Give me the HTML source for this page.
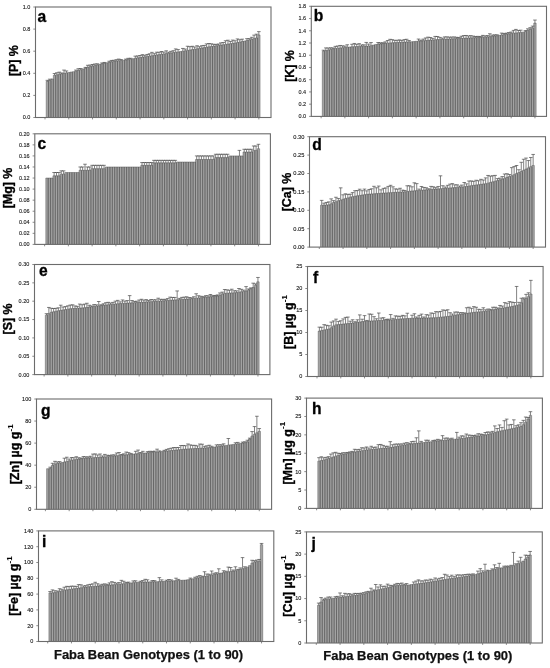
<!DOCTYPE html>
<html lang="en"><head><meta charset="utf-8"><title>Faba Bean Genotypes</title>
<style>html,body{margin:0;padding:0;background:#fff}svg{display:block}text{font-family:'Liberation Sans', Arial, Helvetica, sans-serif}.tk{font-size:5.5px;fill:#1a1a1a;stroke:#1a1a1a;stroke-width:.12px}.lt{font-size:15.6px;font-weight:bold;fill:#000;stroke:#000;stroke-width:.3px}.yl{font-size:12.4px;font-weight:bold;fill:#000;stroke:#000;stroke-width:.35px}.xl{font-size:12.95px;font-weight:bold;fill:#111;stroke:#111;stroke-width:.25px}</style></head><body>
<svg width="550" height="668" viewBox="0 0 550 668">
<rect width="550" height="668" fill="#fff"/>
<g>
<path d="M46.20 117.50V81.37h2.38V117.50M48.58 117.50V80.52h2.38V117.50M50.95 117.50V78.92h2.38V117.50M53.33 117.50V75.24h2.38V117.50M55.70 117.50V74.76h2.38V117.50M58.08 117.50V74.27h2.38V117.50M60.46 117.50V73.79h2.38V117.50M62.83 117.50V73.30h2.38V117.50M65.21 117.50V72.88h2.38V117.50M67.58 117.50V72.47h2.38V117.50M69.96 117.50V72.05h2.38V117.50M72.34 117.50V71.63h2.38V117.50M74.71 117.50V71.22h2.38V117.50M77.09 117.50V70.52h2.38V117.50M79.46 117.50V69.72h2.38V117.50M81.84 117.50V68.91h2.38V117.50M84.22 117.50V68.10h2.38V117.50M86.59 117.50V67.29h2.38V117.50M88.97 117.50V66.61h2.38V117.50M91.34 117.50V66.05h2.38V117.50M93.72 117.50V65.48h2.38V117.50M96.10 117.50V64.92h2.38V117.50M98.47 117.50V64.36h2.38V117.50M100.85 117.50V63.80h2.38V117.50M103.22 117.50V63.31h2.38V117.50M105.60 117.50V62.81h2.38V117.50M107.98 117.50V62.32h2.38V117.50M110.35 117.50V61.83h2.38V117.50M112.73 117.50V61.34h2.38V117.50M115.10 117.50V60.99h2.38V117.50M117.48 117.50V60.73h2.38V117.50M119.86 117.50V60.47h2.38V117.50M122.23 117.50V60.21h2.38V117.50M124.61 117.50V59.95h2.38V117.50M126.98 117.50V59.60h2.38V117.50M129.36 117.50V59.16h2.38V117.50M131.74 117.50V58.71h2.38V117.50M134.11 117.50V58.27h2.38V117.50M136.49 117.50V57.83h2.38V117.50M138.86 117.50V57.47h2.38V117.50M141.24 117.50V57.11h2.38V117.50M143.62 117.50V56.75h2.38V117.50M145.99 117.50V56.39h2.38V117.50M148.37 117.50V56.03h2.38V117.50M150.74 117.50V55.68h2.38V117.50M153.12 117.50V55.32h2.38V117.50M155.50 117.50V54.96h2.38V117.50M157.87 117.50V54.62h2.38V117.50M160.25 117.50V54.27h2.38V117.50M162.62 117.50V53.93h2.38V117.50M165.00 117.50V53.59h2.38V117.50M167.38 117.50V53.25h2.38V117.50M169.75 117.50V52.91h2.38V117.50M172.13 117.50V52.57h2.38V117.50M174.50 117.50V52.22h2.38V117.50M176.88 117.50V51.88h2.38V117.50M179.26 117.50V51.54h2.38V117.50M181.63 117.50V51.20h2.38V117.50M184.01 117.50V50.80h2.38V117.50M186.38 117.50V50.40h2.38V117.50M188.76 117.50V50.01h2.38V117.50M191.14 117.50V49.61h2.38V117.50M193.51 117.50V49.21h2.38V117.50M195.89 117.50V48.81h2.38V117.50M198.26 117.50V48.41h2.38V117.50M200.64 117.50V48.01h2.38V117.50M203.02 117.50V47.62h2.38V117.50M205.39 117.50V47.22h2.38V117.50M207.77 117.50V46.82h2.38V117.50M210.14 117.50V46.47h2.38V117.50M212.52 117.50V46.12h2.38V117.50M214.90 117.50V45.77h2.38V117.50M217.27 117.50V45.42h2.38V117.50M219.65 117.50V45.07h2.38V117.50M222.02 117.50V44.72h2.38V117.50M224.40 117.50V44.38h2.38V117.50M226.78 117.50V44.03h2.38V117.50M229.15 117.50V43.68h2.38V117.50M231.53 117.50V43.33h2.38V117.50M233.90 117.50V42.98h2.38V117.50M236.28 117.50V42.51h2.38V117.50M238.66 117.50V42.01h2.38V117.50M241.03 117.50V41.51h2.38V117.50M243.41 117.50V41.00h2.38V117.50M245.78 117.50V40.50h2.38V117.50M248.16 117.50V39.95h2.38V117.50M250.54 117.50V39.28h2.38V117.50M252.91 117.50V38.61h2.38V117.50M255.29 117.50V37.94h2.38V117.50M257.66 117.50V34.96h2.38V117.50" fill="#a3a3a3" stroke="#4e4e4e" stroke-width="0.45"/>
<path d="M47.39 81.37V80.33M45.59 80.33h3.60M49.76 80.52V79.17M47.96 79.17h3.60M54.52 75.24V73.51M52.72 73.51h3.60M56.89 74.76V72.76M55.09 72.76h3.60M59.27 74.27V72.14M57.47 72.14h3.60M61.64 73.79V72.94M59.84 72.94h3.60M64.02 73.30V70.07M62.22 70.07h3.60M66.40 72.88V70.95M64.60 70.95h3.60M75.90 71.22V70.08M74.10 70.08h3.60M78.28 70.52V68.71M76.48 68.71h3.60M80.65 69.72V68.52M78.85 68.52h3.60M85.40 68.10V67.39M83.60 67.39h3.60M87.78 67.29V65.29M85.98 65.29h3.60M90.16 66.61V65.05M88.36 65.05h3.60M92.53 66.05V64.48M90.73 64.48h3.60M94.91 65.48V63.97M93.11 63.97h3.60M97.28 64.92V63.79M95.48 63.79h3.60M102.04 63.80V62.94M100.24 62.94h3.60M104.41 63.31V62.45M102.61 62.45h3.60M109.16 62.32V61.22M107.36 61.22h3.60M111.54 61.83V60.43M109.74 60.43h3.60M113.92 61.34V60.29M112.12 60.29h3.60M116.29 60.99V59.70M114.49 59.70h3.60M118.67 60.73V59.07M116.87 59.07h3.60M121.04 60.47V59.53M119.24 59.53h3.60M125.80 59.95V59.12M124.00 59.12h3.60M128.17 59.60V58.33M126.37 58.33h3.60M130.55 59.16V58.28M128.75 58.28h3.60M135.30 58.27V56.14M133.50 56.14h3.60M137.68 57.83V55.95M135.88 55.95h3.60M140.05 57.47V55.51M138.25 55.51h3.60M142.43 57.11V54.67M140.63 54.67h3.60M144.80 56.75V55.32M143.00 55.32h3.60M147.18 56.39V54.47M145.38 54.47h3.60M149.56 56.03V53.79M147.76 53.79h3.60M151.93 55.68V52.36M150.13 52.36h3.60M154.31 55.32V53.66M152.51 53.66h3.60M156.68 54.96V52.19M154.88 52.19h3.60M159.06 54.62V52.31M157.26 52.31h3.60M161.44 54.27V51.50M159.64 51.50h3.60M163.81 53.93V52.10M162.01 52.10h3.60M166.19 53.59V50.81M164.39 50.81h3.60M168.56 53.25V52.22M166.76 52.22h3.60M170.94 52.91V51.35M169.14 51.35h3.60M173.32 52.57V50.69M171.52 50.69h3.60M175.69 52.22V48.91M173.89 48.91h3.60M178.07 51.88V49.57M176.27 49.57h3.60M182.82 51.20V48.44M181.02 48.44h3.60M185.20 50.80V49.05M183.40 49.05h3.60M187.57 50.40V46.24M185.77 46.24h3.60M189.95 50.01V46.69M188.15 46.69h3.60M192.32 49.61V46.29M190.52 46.29h3.60M194.70 49.21V47.00M192.90 47.00h3.60M197.08 48.81V45.74M195.28 45.74h3.60M199.45 48.41V46.69M197.65 46.69h3.60M201.83 48.01V45.71M200.03 45.71h3.60M204.20 47.62V45.43M202.40 45.43h3.60M206.58 47.22V43.90M204.78 43.90h3.60M208.96 46.82V43.50M207.16 43.50h3.60M211.33 46.47V43.84M209.53 43.84h3.60M213.71 46.12V44.27M211.91 44.27h3.60M216.08 45.77V44.40M214.28 44.40h3.60M218.46 45.42V44.01M216.66 44.01h3.60M220.84 45.07V42.86M219.04 42.86h3.60M223.21 44.72V42.51M221.41 42.51h3.60M225.59 44.38V40.75M223.79 40.75h3.60M227.96 44.03V40.21M226.16 40.21h3.60M230.34 43.68V41.47M228.54 41.47h3.60M232.72 43.33V40.08M230.92 40.08h3.60M235.09 42.98V40.78M233.29 40.78h3.60M237.47 42.51V38.93M235.67 38.93h3.60M239.84 42.01V39.74M238.04 39.74h3.60M242.22 41.51V39.15M240.42 39.15h3.60M246.97 40.50V38.68M245.17 38.68h3.60M249.35 39.95V38.66M247.55 38.66h3.60M251.72 39.28V37.32M249.92 37.32h3.60M254.10 38.61V35.13M252.30 35.13h3.60M256.48 37.94V34.18M254.68 34.18h3.60M258.85 34.96V31.64M257.05 31.64h3.60" fill="none" stroke="#404040" stroke-width="0.65"/>
<rect x="35.50" y="7.00" width="235.50" height="110.50" fill="none" stroke="#6c6c6c" stroke-width="1.1"/>
<text class="tk" x="30.30" y="119.40" text-anchor="end">0.0</text>
<text class="tk" x="30.30" y="97.30" text-anchor="end">0.2</text>
<text class="tk" x="30.30" y="75.20" text-anchor="end">0.4</text>
<text class="tk" x="30.30" y="53.10" text-anchor="end">0.6</text>
<text class="tk" x="30.30" y="31.00" text-anchor="end">0.8</text>
<text class="tk" x="30.30" y="8.90" text-anchor="end">1.0</text>
<path d="M35.50 117.50h-2.2M35.50 95.40h-2.2M35.50 73.30h-2.2M35.50 51.20h-2.2M35.50 29.10h-2.2M35.50 7.00h-2.2M45.01 117.50v1.9M68.77 117.50v1.9M92.53 117.50v1.9M116.29 117.50v1.9M140.05 117.50v1.9M163.81 117.50v1.9M187.57 117.50v1.9M211.33 117.50v1.9M235.09 117.50v1.9M258.85 117.50v1.9" fill="none" stroke="#6c6c6c" stroke-width="0.8"/>
<text class="lt" x="37.50" y="22.00">a</text>
<text class="yl" transform="translate(17.80 60.60) rotate(-90)" text-anchor="middle">[P] %</text>
</g>
<g>
<path d="M322.30 116.40V51.20h2.38V116.40M324.68 116.40V50.60h2.38V116.40M327.05 116.40V50.00h2.38V116.40M329.43 116.40V49.40h2.38V116.40M331.80 116.40V48.80h2.38V116.40M334.18 116.40V48.39h2.38V116.40M336.56 116.40V48.15h2.38V116.40M338.93 116.40V47.91h2.38V116.40M341.31 116.40V47.68h2.38V116.40M343.68 116.40V47.44h2.38V116.40M346.06 116.40V47.20h2.38V116.40M348.44 116.40V46.97h2.38V116.40M350.81 116.40V46.73h2.38V116.40M353.19 116.40V46.63h2.38V116.40M355.56 116.40V46.52h2.38V116.40M357.94 116.40V46.41h2.38V116.40M360.32 116.40V46.31h2.38V116.40M362.69 116.40V46.20h2.38V116.40M365.07 116.40V46.10h2.38V116.40M367.44 116.40V45.99h2.38V116.40M369.82 116.40V45.64h2.38V116.40M372.20 116.40V45.05h2.38V116.40M374.57 116.40V44.46h2.38V116.40M376.95 116.40V44.05h2.38V116.40M379.32 116.40V43.82h2.38V116.40M381.70 116.40V43.59h2.38V116.40M384.08 116.40V43.36h2.38V116.40M386.45 116.40V43.13h2.38V116.40M388.83 116.40V42.90h2.38V116.40M391.20 116.40V42.76h2.38V116.40M393.58 116.40V42.62h2.38V116.40M395.96 116.40V42.48h2.38V116.40M398.33 116.40V42.35h2.38V116.40M400.71 116.40V42.21h2.38V116.40M403.08 116.40V42.08h2.38V116.40M405.46 116.40V41.96h2.38V116.40M407.84 116.40V41.84h2.38V116.40M410.21 116.40V41.72h2.38V116.40M412.59 116.40V41.55h2.38V116.40M414.96 116.40V41.35h2.38V116.40M417.34 116.40V41.14h2.38V116.40M419.72 116.40V40.93h2.38V116.40M422.09 116.40V40.73h2.38V116.40M424.47 116.40V40.52h2.38V116.40M426.84 116.40V40.32h2.38V116.40M429.22 116.40V40.11h2.38V116.40M431.60 116.40V39.90h2.38V116.40M433.97 116.40V39.70h2.38V116.40M436.35 116.40V39.55h2.38V116.40M438.72 116.40V39.43h2.38V116.40M441.10 116.40V39.31h2.38V116.40M443.48 116.40V39.19h2.38V116.40M445.85 116.40V39.07h2.38V116.40M448.23 116.40V38.95h2.38V116.40M450.60 116.40V38.83h2.38V116.40M452.98 116.40V38.71h2.38V116.40M455.36 116.40V38.59h2.38V116.40M457.73 116.40V38.47h2.38V116.40M460.11 116.40V38.35h2.38V116.40M462.48 116.40V38.23h2.38V116.40M464.86 116.40V38.11h2.38V116.40M467.24 116.40V37.98h2.38V116.40M469.61 116.40V37.86h2.38V116.40M471.99 116.40V37.74h2.38V116.40M474.36 116.40V37.62h2.38V116.40M476.74 116.40V37.49h2.38V116.40M479.12 116.40V37.37h2.38V116.40M481.49 116.40V37.25h2.38V116.40M483.87 116.40V37.13h2.38V116.40M486.24 116.40V36.91h2.38V116.40M488.62 116.40V36.60h2.38V116.40M491.00 116.40V36.29h2.38V116.40M493.37 116.40V35.98h2.38V116.40M495.75 116.40V35.67h2.38V116.40M498.12 116.40V35.35h2.38V116.40M500.50 116.40V34.98h2.38V116.40M502.88 116.40V34.60h2.38V116.40M505.25 116.40V34.22h2.38V116.40M507.63 116.40V33.84h2.38V116.40M510.00 116.40V33.46h2.38V116.40M512.38 116.40V33.15h2.38V116.40M514.76 116.40V32.91h2.38V116.40M517.13 116.40V32.66h2.38V116.40M519.51 116.40V32.42h2.38V116.40M521.88 116.40V32.17h2.38V116.40M524.26 116.40V31.50h2.38V116.40M526.64 116.40V30.40h2.38V116.40M529.01 116.40V29.30h2.38V116.40M531.39 116.40V28.20h2.38V116.40M533.76 116.40V23.12h2.38V116.40" fill="#a3a3a3" stroke="#4e4e4e" stroke-width="0.45"/>
<path d="M323.49 51.20V50.21M321.69 50.21h3.60M325.86 50.60V47.91M324.06 47.91h3.60M328.24 50.00V48.02M326.44 48.02h3.60M330.62 49.40V47.80M328.82 47.80h3.60M332.99 48.80V47.91M331.19 47.91h3.60M335.37 48.39V46.37M333.57 46.37h3.60M337.74 48.15V46.00M335.94 46.00h3.60M340.12 47.91V45.46M338.32 45.46h3.60M342.50 47.68V45.84M340.70 45.84h3.60M344.87 47.44V46.11M343.07 46.11h3.60M347.25 47.20V44.76M345.45 44.76h3.60M352.00 46.73V44.29M350.20 44.29h3.60M354.38 46.63V43.46M352.58 43.46h3.60M356.75 46.52V44.37M354.95 44.37h3.60M359.13 46.41V43.65M357.33 43.65h3.60M361.50 46.31V44.93M359.70 44.93h3.60M363.88 46.20V44.82M362.08 44.82h3.60M366.26 46.10V42.43M364.46 42.43h3.60M368.63 45.99V44.07M366.83 44.07h3.60M371.01 45.64V42.54M369.21 42.54h3.60M378.14 44.05V42.51M376.34 42.51h3.60M380.51 43.82V42.84M378.71 42.84h3.60M382.89 43.59V42.74M381.09 42.74h3.60M385.26 43.36V41.86M383.46 41.86h3.60M387.64 43.13V40.50M385.84 40.50h3.60M390.02 42.90V39.32M388.22 39.32h3.60M392.39 42.76V39.70M390.59 39.70h3.60M394.77 42.62V40.34M392.97 40.34h3.60M397.14 42.48V40.29M395.34 40.29h3.60M399.52 42.35V39.90M397.72 39.90h3.60M401.90 42.21V40.41M400.10 40.41h3.60M404.27 42.08V39.61M402.47 39.61h3.60M406.65 41.96V39.27M404.85 39.27h3.60M409.02 41.84V40.54M407.22 40.54h3.60M418.53 41.14V39.04M416.73 39.04h3.60M420.90 40.93V40.20M419.10 40.20h3.60M423.28 40.73V39.10M421.48 39.10h3.60M425.66 40.52V37.97M423.86 37.97h3.60M428.03 40.32V37.15M426.23 37.15h3.60M430.41 40.11V37.52M428.61 37.52h3.60M432.78 39.90V38.37M430.98 38.37h3.60M435.16 39.70V36.41M433.36 36.41h3.60M437.54 39.55V36.50M435.74 36.50h3.60M439.91 39.43V37.41M438.11 37.41h3.60M442.29 39.31V38.16M440.49 38.16h3.60M444.66 39.19V36.90M442.86 36.90h3.60M447.04 39.07V36.88M445.24 36.88h3.60M449.42 38.95V37.15M447.62 37.15h3.60M451.79 38.83V37.06M449.99 37.06h3.60M454.17 38.71V36.95M452.37 36.95h3.60M456.54 38.59V37.27M454.74 37.27h3.60M458.92 38.47V37.51M457.12 37.51h3.60M461.30 38.35V36.25M459.50 36.25h3.60M463.67 38.23V35.61M461.87 35.61h3.60M466.05 38.11V35.48M464.25 35.48h3.60M468.42 37.98V35.94M466.62 35.94h3.60M470.80 37.86V35.64M469.00 35.64h3.60M473.18 37.74V36.10M471.38 36.10h3.60M475.55 37.62V36.47M473.75 36.47h3.60M477.93 37.49V36.36M476.13 36.36h3.60M480.30 37.37V36.54M478.50 36.54h3.60M482.68 37.25V35.38M480.88 35.38h3.60M485.06 37.13V35.93M483.26 35.93h3.60M487.43 36.91V35.59M485.63 35.59h3.60M489.81 36.60V33.75M488.01 33.75h3.60M492.18 36.29V35.11M490.38 35.11h3.60M494.56 35.98V34.85M492.76 34.85h3.60M496.94 35.67V34.77M495.14 34.77h3.60M501.69 34.98V33.08M499.89 33.08h3.60M504.06 34.60V33.52M502.26 33.52h3.60M506.44 34.22V33.12M504.64 33.12h3.60M508.82 33.84V32.57M507.02 32.57h3.60M511.19 33.46V32.02M509.39 32.02h3.60M513.57 33.15V30.40M511.77 30.40h3.60M515.94 32.91V29.41M514.14 29.41h3.60M518.32 32.66V30.47M516.52 30.47h3.60M520.70 32.42V30.17M518.90 30.17h3.60M525.45 31.50V30.57M523.65 30.57h3.60M527.82 30.40V28.82M526.02 28.82h3.60M530.20 29.30V27.68M528.40 27.68h3.60M532.58 28.20V26.10M530.78 26.10h3.60M534.95 23.12V20.06M533.15 20.06h3.60" fill="none" stroke="#404040" stroke-width="0.65"/>
<rect x="311.30" y="6.30" width="235.20" height="110.10" fill="none" stroke="#6c6c6c" stroke-width="1.1"/>
<text class="tk" x="306.10" y="118.30" text-anchor="end">0.0</text>
<text class="tk" x="306.10" y="106.07" text-anchor="end">0.2</text>
<text class="tk" x="306.10" y="93.83" text-anchor="end">0.4</text>
<text class="tk" x="306.10" y="81.60" text-anchor="end">0.6</text>
<text class="tk" x="306.10" y="69.37" text-anchor="end">0.8</text>
<text class="tk" x="306.10" y="57.13" text-anchor="end">1.0</text>
<text class="tk" x="306.10" y="44.90" text-anchor="end">1.2</text>
<text class="tk" x="306.10" y="32.67" text-anchor="end">1.4</text>
<text class="tk" x="306.10" y="20.43" text-anchor="end">1.6</text>
<text class="tk" x="306.10" y="8.20" text-anchor="end">1.8</text>
<path d="M311.30 116.40h-2.2M311.30 104.17h-2.2M311.30 91.93h-2.2M311.30 79.70h-2.2M311.30 67.47h-2.2M311.30 55.23h-2.2M311.30 43.00h-2.2M311.30 30.77h-2.2M311.30 18.53h-2.2M311.30 6.30h-2.2M321.11 116.40v1.9M344.87 116.40v1.9M368.63 116.40v1.9M392.39 116.40v1.9M416.15 116.40v1.9M439.91 116.40v1.9M463.67 116.40v1.9M487.43 116.40v1.9M511.19 116.40v1.9M534.95 116.40v1.9" fill="none" stroke="#6c6c6c" stroke-width="0.8"/>
<text class="lt" x="313.70" y="20.90">b</text>
<text class="yl" transform="translate(294.00 66.00) rotate(-90)" text-anchor="middle">[K] %</text>
</g>
<g>
<path d="M45.80 244.40V178.04h2.38V244.40M48.18 244.40V178.04h2.38V244.40M50.55 244.40V178.04h2.38V244.40M52.93 244.40V175.83h2.38V244.40M55.30 244.40V175.83h2.38V244.40M57.68 244.40V175.83h2.38V244.40M60.06 244.40V174.17h2.38V244.40M62.43 244.40V174.17h2.38V244.40M64.81 244.40V172.51h2.38V244.40M67.18 244.40V172.51h2.38V244.40M69.56 244.40V172.51h2.38V244.40M71.94 244.40V172.51h2.38V244.40M74.31 244.40V172.51h2.38V244.40M76.69 244.40V172.51h2.38V244.40M79.06 244.40V170.30h2.38V244.40M81.44 244.40V170.30h2.38V244.40M83.82 244.40V170.30h2.38V244.40M86.19 244.40V170.30h2.38V244.40M88.57 244.40V170.30h2.38V244.40M90.94 244.40V168.64h2.38V244.40M93.32 244.40V168.64h2.38V244.40M95.70 244.40V168.64h2.38V244.40M98.07 244.40V168.64h2.38V244.40M100.45 244.40V168.64h2.38V244.40M102.82 244.40V168.64h2.38V244.40M105.20 244.40V166.98h2.38V244.40M107.58 244.40V166.98h2.38V244.40M109.95 244.40V166.98h2.38V244.40M112.33 244.40V166.98h2.38V244.40M114.70 244.40V166.98h2.38V244.40M117.08 244.40V166.98h2.38V244.40M119.46 244.40V166.98h2.38V244.40M121.83 244.40V166.98h2.38V244.40M124.21 244.40V166.98h2.38V244.40M126.58 244.40V166.98h2.38V244.40M128.96 244.40V166.98h2.38V244.40M131.34 244.40V166.98h2.38V244.40M133.71 244.40V166.98h2.38V244.40M136.09 244.40V166.98h2.38V244.40M138.46 244.40V166.98h2.38V244.40M140.84 244.40V165.32h2.38V244.40M143.22 244.40V165.32h2.38V244.40M145.59 244.40V165.32h2.38V244.40M147.97 244.40V165.32h2.38V244.40M150.34 244.40V165.32h2.38V244.40M152.72 244.40V162.83h2.38V244.40M155.10 244.40V162.83h2.38V244.40M157.47 244.40V162.83h2.38V244.40M159.85 244.40V162.83h2.38V244.40M162.22 244.40V162.83h2.38V244.40M164.60 244.40V162.83h2.38V244.40M166.98 244.40V162.83h2.38V244.40M169.35 244.40V162.83h2.38V244.40M171.73 244.40V162.83h2.38V244.40M174.10 244.40V162.83h2.38V244.40M176.48 244.40V162.00h2.38V244.40M178.86 244.40V162.00h2.38V244.40M181.23 244.40V162.00h2.38V244.40M183.61 244.40V162.00h2.38V244.40M185.98 244.40V162.00h2.38V244.40M188.36 244.40V162.00h2.38V244.40M190.74 244.40V162.00h2.38V244.40M193.11 244.40V162.00h2.38V244.40M195.49 244.40V159.51h2.38V244.40M197.86 244.40V159.51h2.38V244.40M200.24 244.40V159.51h2.38V244.40M202.62 244.40V159.51h2.38V244.40M204.99 244.40V159.51h2.38V244.40M207.37 244.40V159.51h2.38V244.40M209.74 244.40V159.51h2.38V244.40M212.12 244.40V159.51h2.38V244.40M214.50 244.40V157.58h2.38V244.40M216.87 244.40V157.58h2.38V244.40M219.25 244.40V157.58h2.38V244.40M221.62 244.40V157.58h2.38V244.40M224.00 244.40V157.58h2.38V244.40M226.38 244.40V157.58h2.38V244.40M228.75 244.40V155.92h2.38V244.40M231.13 244.40V155.92h2.38V244.40M233.50 244.40V155.92h2.38V244.40M235.88 244.40V155.92h2.38V244.40M238.26 244.40V155.92h2.38V244.40M240.63 244.40V155.92h2.38V244.40M243.01 244.40V152.05h2.38V244.40M245.38 244.40V152.05h2.38V244.40M247.76 244.40V152.05h2.38V244.40M250.14 244.40V152.05h2.38V244.40M252.51 244.40V150.39h2.38V244.40M254.89 244.40V150.39h2.38V244.40M257.26 244.40V148.73h2.38V244.40" fill="#a3a3a3" stroke="#4e4e4e" stroke-width="0.45"/>
<path d="M54.12 175.83V172.51M52.32 172.51h3.60M56.49 175.83V172.51M54.69 172.51h3.60M58.87 175.83V172.51M57.07 172.51h3.60M61.24 174.17V170.85M59.44 170.85h3.60M63.62 174.17V170.85M61.82 170.85h3.60M80.25 170.30V166.98M78.45 166.98h3.60M82.63 170.30V166.98M80.83 166.98h3.60M85.00 170.30V164.22M83.20 164.22h3.60M87.38 170.30V166.98M85.58 166.98h3.60M89.76 170.30V166.98M87.96 166.98h3.60M92.13 168.64V165.32M90.33 165.32h3.60M94.51 168.64V165.32M92.71 165.32h3.60M96.88 168.64V165.32M95.08 165.32h3.60M99.26 168.64V165.32M97.46 165.32h3.60M101.64 168.64V165.32M99.84 165.32h3.60M104.01 168.64V165.32M102.21 165.32h3.60M142.03 165.32V162.56M140.23 162.56h3.60M144.40 165.32V162.56M142.60 162.56h3.60M146.78 165.32V162.56M144.98 162.56h3.60M149.16 165.32V162.56M147.36 162.56h3.60M151.53 165.32V162.56M149.73 162.56h3.60M153.91 162.83V160.34M152.11 160.34h3.60M156.28 162.83V160.34M154.48 160.34h3.60M158.66 162.83V160.34M156.86 160.34h3.60M161.04 162.83V160.34M159.24 160.34h3.60M163.41 162.83V160.34M161.61 160.34h3.60M165.79 162.83V160.34M163.99 160.34h3.60M168.16 162.83V160.34M166.36 160.34h3.60M170.54 162.83V160.34M168.74 160.34h3.60M172.92 162.83V160.34M171.12 160.34h3.60M175.29 162.83V160.34M173.49 160.34h3.60M196.68 159.51V155.92M194.88 155.92h3.60M199.05 159.51V155.92M197.25 155.92h3.60M201.43 159.51V155.92M199.63 155.92h3.60M203.80 159.51V155.92M202.00 155.92h3.60M206.18 159.51V155.92M204.38 155.92h3.60M208.56 159.51V155.92M206.76 155.92h3.60M210.93 159.51V155.92M209.13 155.92h3.60M213.31 159.51V155.92M211.51 155.92h3.60M215.68 157.58V154.26M213.88 154.26h3.60M218.06 157.58V154.26M216.26 154.26h3.60M220.44 157.58V154.26M218.64 154.26h3.60M222.81 157.58V154.26M221.01 154.26h3.60M225.19 157.58V154.26M223.39 154.26h3.60M227.56 157.58V154.26M225.76 154.26h3.60M239.44 155.92V150.39M237.64 150.39h3.60M244.20 152.05V149.28M242.40 149.28h3.60M246.57 152.05V149.28M244.77 149.28h3.60M248.95 152.05V149.28M247.15 149.28h3.60M251.32 152.05V149.28M249.52 149.28h3.60M253.70 150.39V145.97M251.90 145.97h3.60M256.08 150.39V145.97M254.28 145.97h3.60M258.45 148.73V144.31M256.65 144.31h3.60" fill="none" stroke="#404040" stroke-width="0.65"/>
<rect x="34.80" y="133.80" width="235.60" height="110.60" fill="none" stroke="#6c6c6c" stroke-width="1.1"/>
<text class="tk" x="29.60" y="246.30" text-anchor="end">0.00</text>
<text class="tk" x="29.60" y="235.24" text-anchor="end">0.02</text>
<text class="tk" x="29.60" y="224.18" text-anchor="end">0.04</text>
<text class="tk" x="29.60" y="213.12" text-anchor="end">0.06</text>
<text class="tk" x="29.60" y="202.06" text-anchor="end">0.08</text>
<text class="tk" x="29.60" y="191.00" text-anchor="end">0.10</text>
<text class="tk" x="29.60" y="179.94" text-anchor="end">0.12</text>
<text class="tk" x="29.60" y="168.88" text-anchor="end">0.14</text>
<text class="tk" x="29.60" y="157.82" text-anchor="end">0.16</text>
<text class="tk" x="29.60" y="146.76" text-anchor="end">0.18</text>
<text class="tk" x="29.60" y="135.70" text-anchor="end">0.20</text>
<path d="M34.80 244.40h-2.2M34.80 233.34h-2.2M34.80 222.28h-2.2M34.80 211.22h-2.2M34.80 200.16h-2.2M34.80 189.10h-2.2M34.80 178.04h-2.2M34.80 166.98h-2.2M34.80 155.92h-2.2M34.80 144.86h-2.2M34.80 133.80h-2.2M44.61 244.40v1.9M68.37 244.40v1.9M92.13 244.40v1.9M115.89 244.40v1.9M139.65 244.40v1.9M163.41 244.40v1.9M187.17 244.40v1.9M210.93 244.40v1.9M234.69 244.40v1.9M258.45 244.40v1.9" fill="none" stroke="#6c6c6c" stroke-width="0.8"/>
<text class="lt" x="37.50" y="149.30">c</text>
<text class="yl" transform="translate(11.50 188.00) rotate(-90)" text-anchor="middle">[Mg] %</text>
</g>
<g>
<path d="M320.50 247.10V205.20h2.38V247.10M322.88 247.10V205.08h2.38V247.10M325.25 247.10V204.96h2.38V247.10M327.63 247.10V204.84h2.38V247.10M330.00 247.10V203.86h2.38V247.10M332.38 247.10V202.52h2.38V247.10M334.76 247.10V201.68h2.38V247.10M337.13 247.10V200.84h2.38V247.10M339.51 247.10V200.00h2.38V247.10M341.88 247.10V199.29h2.38V247.10M344.26 247.10V198.59h2.38V247.10M346.64 247.10V197.89h2.38V247.10M349.01 247.10V197.18h2.38V247.10M351.39 247.10V196.64h2.38V247.10M353.76 247.10V196.25h2.38V247.10M356.14 247.10V195.85h2.38V247.10M358.52 247.10V195.46h2.38V247.10M360.89 247.10V195.07h2.38V247.10M363.27 247.10V194.68h2.38V247.10M365.64 247.10V194.29h2.38V247.10M368.02 247.10V194.12h2.38V247.10M370.40 247.10V193.95h2.38V247.10M372.77 247.10V193.78h2.38V247.10M375.15 247.10V193.61h2.38V247.10M377.52 247.10V193.43h2.38V247.10M379.90 247.10V193.26h2.38V247.10M382.28 247.10V193.09h2.38V247.10M384.65 247.10V192.93h2.38V247.10M387.03 247.10V192.78h2.38V247.10M389.40 247.10V192.64h2.38V247.10M391.78 247.10V192.49h2.38V247.10M394.16 247.10V192.34h2.38V247.10M396.53 247.10V192.19h2.38V247.10M398.91 247.10V192.05h2.38V247.10M401.28 247.10V191.90h2.38V247.10M403.66 247.10V191.75h2.38V247.10M406.04 247.10V191.49h2.38V247.10M408.41 247.10V191.22h2.38V247.10M410.79 247.10V191.01h2.38V247.10M413.16 247.10V190.82h2.38V247.10M415.54 247.10V190.62h2.38V247.10M417.92 247.10V190.43h2.38V247.10M420.29 247.10V190.24h2.38V247.10M422.67 247.10V190.05h2.38V247.10M425.04 247.10V189.85h2.38V247.10M427.42 247.10V189.66h2.38V247.10M429.80 247.10V189.47h2.38V247.10M432.17 247.10V189.28h2.38V247.10M434.55 247.10V189.08h2.38V247.10M436.92 247.10V188.89h2.38V247.10M439.30 247.10V188.70h2.38V247.10M441.68 247.10V188.51h2.38V247.10M444.05 247.10V188.33h2.38V247.10M446.43 247.10V188.14h2.38V247.10M448.80 247.10V187.95h2.38V247.10M451.18 247.10V187.77h2.38V247.10M453.56 247.10V187.58h2.38V247.10M455.93 247.10V187.40h2.38V247.10M458.31 247.10V187.21h2.38V247.10M460.68 247.10V186.95h2.38V247.10M463.06 247.10V186.63h2.38V247.10M465.44 247.10V186.30h2.38V247.10M467.81 247.10V185.97h2.38V247.10M470.19 247.10V185.64h2.38V247.10M472.56 247.10V185.32h2.38V247.10M474.94 247.10V184.99h2.38V247.10M477.32 247.10V184.66h2.38V247.10M479.69 247.10V184.34h2.38V247.10M482.07 247.10V184.01h2.38V247.10M484.44 247.10V183.68h2.38V247.10M486.82 247.10V183.14h2.38V247.10M489.20 247.10V182.50h2.38V247.10M491.57 247.10V181.86h2.38V247.10M493.95 247.10V181.23h2.38V247.10M496.32 247.10V180.59h2.38V247.10M498.70 247.10V179.86h2.38V247.10M501.08 247.10V179.03h2.38V247.10M503.45 247.10V178.20h2.38V247.10M505.83 247.10V177.37h2.38V247.10M508.20 247.10V176.54h2.38V247.10M510.58 247.10V175.71h2.38V247.10M512.96 247.10V174.66h2.38V247.10M515.33 247.10V173.61h2.38V247.10M517.71 247.10V172.55h2.38V247.10M520.08 247.10V171.50h2.38V247.10M522.46 247.10V170.32h2.38V247.10M524.84 247.10V169.11h2.38V247.10M527.21 247.10V167.90h2.38V247.10M529.59 247.10V166.69h2.38V247.10M531.96 247.10V165.48h2.38V247.10" fill="#a3a3a3" stroke="#4e4e4e" stroke-width="0.45"/>
<path d="M321.69 205.20V200.38M319.89 200.38h3.60M324.06 205.08V203.18M322.26 203.18h3.60M326.44 204.96V202.44M324.64 202.44h3.60M328.82 204.84V201.89M327.02 201.89h3.60M331.19 203.86V198.87M329.39 198.87h3.60M333.57 202.52V200.62M331.77 200.62h3.60M335.94 201.68V197.26M334.14 197.26h3.60M338.32 200.84V198.46M336.52 198.46h3.60M340.70 200.00V187.85M338.90 187.85h3.60M343.07 199.29V194.80M341.27 194.80h3.60M345.45 198.59V193.80M343.65 193.80h3.60M347.82 197.89V194.41M346.02 194.41h3.60M350.20 197.18V194.20M348.40 194.20h3.60M352.58 196.64V192.60M350.78 192.60h3.60M354.95 196.25V190.73M353.15 190.73h3.60M357.33 195.85V190.55M355.53 190.55h3.60M359.70 195.46V189.21M357.90 189.21h3.60M362.08 195.07V190.69M360.28 190.69h3.60M364.46 194.68V189.08M362.66 189.08h3.60M366.83 194.29V190.84M365.03 190.84h3.60M369.21 194.12V189.48M367.41 189.48h3.60M371.58 193.95V188.80M369.78 188.80h3.60M373.96 193.78V186.30M372.16 186.30h3.60M376.34 193.61V187.75M374.54 187.75h3.60M378.71 193.43V186.07M376.91 186.07h3.60M381.09 193.26V189.81M379.29 189.81h3.60M383.46 193.09V188.38M381.66 188.38h3.60M385.84 192.93V187.93M384.04 187.93h3.60M388.22 192.78V186.41M386.42 186.41h3.60M390.59 192.64V185.30M388.79 185.30h3.60M392.97 192.49V186.81M391.17 186.81h3.60M395.34 192.34V188.88M393.54 188.88h3.60M397.72 192.19V189.14M395.92 189.14h3.60M400.10 192.05V188.27M398.30 188.27h3.60M402.47 191.90V190.08M400.67 190.08h3.60M404.85 191.75V190.47M403.05 190.47h3.60M407.22 191.49V185.78M405.42 185.78h3.60M409.60 191.22V185.78M407.80 185.78h3.60M411.98 191.01V186.81M410.18 186.81h3.60M414.35 190.82V182.81M412.55 182.81h3.60M416.73 190.62V183.64M414.93 183.64h3.60M419.10 190.43V189.10M417.30 189.10h3.60M421.48 190.24V186.49M419.68 186.49h3.60M423.86 190.05V187.45M422.06 187.45h3.60M426.23 189.85V187.79M424.43 187.79h3.60M428.61 189.66V188.76M426.81 188.76h3.60M430.98 189.47V186.40M429.18 186.40h3.60M433.36 189.28V186.79M431.56 186.79h3.60M435.74 189.08V187.67M433.94 187.67h3.60M438.11 188.89V186.47M436.31 186.47h3.60M440.49 188.70V175.82M438.69 175.82h3.60M442.86 188.51V185.71M441.06 185.71h3.60M445.24 188.33V187.00M443.44 187.00h3.60M447.62 188.14V185.33M445.82 185.33h3.60M449.99 187.95V184.14M448.19 184.14h3.60M452.37 187.77V183.63M450.57 183.63h3.60M454.74 187.58V184.85M452.94 184.85h3.60M457.12 187.40V184.81M455.32 184.81h3.60M459.50 187.21V186.06M457.70 186.06h3.60M461.87 186.95V185.06M460.07 185.06h3.60M464.25 186.63V182.51M462.45 182.51h3.60M466.62 186.30V183.85M464.82 183.85h3.60M469.00 185.97V181.01M467.20 181.01h3.60M471.38 185.64V180.94M469.58 180.94h3.60M473.75 185.32V181.37M471.95 181.37h3.60M476.13 184.99V180.25M474.33 180.25h3.60M478.50 184.66V180.75M476.70 180.75h3.60M480.88 184.34V179.32M479.08 179.32h3.60M483.26 184.01V180.01M481.46 180.01h3.60M485.63 183.68V177.90M483.83 177.90h3.60M488.01 183.14V175.45M486.21 175.45h3.60M490.38 182.50V176.12M488.58 176.12h3.60M492.76 181.86V175.75M490.96 175.75h3.60M495.14 181.23V175.40M493.34 175.40h3.60M497.51 180.59V178.61M495.71 178.61h3.60M499.89 179.86V178.13M498.09 178.13h3.60M502.26 179.03V176.57M500.46 176.57h3.60M504.64 178.20V174.01M502.84 174.01h3.60M507.02 177.37V173.72M505.22 173.72h3.60M509.39 176.54V174.51M507.59 174.51h3.60M511.77 175.71V167.61M509.97 167.61h3.60M514.14 174.66V166.56M512.34 166.56h3.60M516.52 173.61V165.51M514.72 165.51h3.60M518.90 172.55V169.73M517.10 169.73h3.60M521.27 171.50V162.30M519.47 162.30h3.60M523.65 170.32V159.28M521.85 159.28h3.60M526.02 169.11V158.07M524.22 158.07h3.60M528.40 167.90V160.54M526.60 160.54h3.60M530.78 166.69V157.49M528.98 157.49h3.60M533.15 165.48V154.44M531.35 154.44h3.60" fill="none" stroke="#404040" stroke-width="0.65"/>
<rect x="309.50" y="136.70" width="236.00" height="110.40" fill="none" stroke="#6c6c6c" stroke-width="1.1"/>
<text class="tk" style="font-size:5.7px" x="304.30" y="249.00" text-anchor="end">0.00</text>
<text class="tk" style="font-size:5.7px" x="304.30" y="230.60" text-anchor="end">0.05</text>
<text class="tk" style="font-size:5.7px" x="304.30" y="212.20" text-anchor="end">0.10</text>
<text class="tk" style="font-size:5.7px" x="304.30" y="193.80" text-anchor="end">0.15</text>
<text class="tk" style="font-size:5.7px" x="304.30" y="175.40" text-anchor="end">0.20</text>
<text class="tk" style="font-size:5.7px" x="304.30" y="157.00" text-anchor="end">0.25</text>
<text class="tk" style="font-size:5.7px" x="304.30" y="138.60" text-anchor="end">0.30</text>
<path d="M309.50 247.10h-2.2M309.50 228.70h-2.2M309.50 210.30h-2.2M309.50 191.90h-2.2M309.50 173.50h-2.2M309.50 155.10h-2.2M309.50 136.70h-2.2M319.31 247.10v1.9M343.07 247.10v1.9M366.83 247.10v1.9M390.59 247.10v1.9M414.35 247.10v1.9M438.11 247.10v1.9M461.87 247.10v1.9M485.63 247.10v1.9M509.39 247.10v1.9M533.15 247.10v1.9" fill="none" stroke="#6c6c6c" stroke-width="0.8"/>
<text class="lt" x="312.20" y="150.20">d</text>
<text class="yl" transform="translate(291.00 192.00) rotate(-90)" text-anchor="middle">[Ca] %</text>
</g>
<g>
<path d="M45.30 374.60V315.15h2.38V374.60M47.68 374.60V313.68h2.38V374.60M50.05 374.60V312.31h2.38V374.60M52.43 374.60V311.79h2.38V374.60M54.80 374.60V311.27h2.38V374.60M57.18 374.60V310.74h2.38V374.60M59.56 374.60V310.34h2.38V374.60M61.93 374.60V309.94h2.38V374.60M64.31 374.60V309.54h2.38V374.60M66.68 374.60V309.14h2.38V374.60M69.06 374.60V308.74h2.38V374.60M71.44 374.60V308.47h2.38V374.60M73.81 374.60V308.32h2.38V374.60M76.19 374.60V308.17h2.38V374.60M78.56 374.60V308.03h2.38V374.60M80.94 374.60V307.88h2.38V374.60M83.32 374.60V307.66h2.38V374.60M85.69 374.60V307.36h2.38V374.60M88.07 374.60V307.06h2.38V374.60M90.44 374.60V306.76h2.38V374.60M92.82 374.60V306.45h2.38V374.60M95.20 374.60V306.15h2.38V374.60M97.57 374.60V305.87h2.38V374.60M99.95 374.60V305.58h2.38V374.60M102.32 374.60V305.30h2.38V374.60M104.70 374.60V305.01h2.38V374.60M107.08 374.60V304.74h2.38V374.60M109.45 374.60V304.48h2.38V374.60M111.83 374.60V304.23h2.38V374.60M114.20 374.60V303.97h2.38V374.60M116.58 374.60V303.71h2.38V374.60M118.96 374.60V303.52h2.38V374.60M121.33 374.60V303.38h2.38V374.60M123.71 374.60V303.24h2.38V374.60M126.08 374.60V303.10h2.38V374.60M128.46 374.60V302.95h2.38V374.60M130.84 374.60V302.81h2.38V374.60M133.21 374.60V302.67h2.38V374.60M135.59 374.60V302.52h2.38V374.60M137.96 374.60V302.37h2.38V374.60M140.34 374.60V302.23h2.38V374.60M142.72 374.60V302.08h2.38V374.60M145.09 374.60V301.93h2.38V374.60M147.47 374.60V301.79h2.38V374.60M149.84 374.60V301.64h2.38V374.60M152.22 374.60V301.48h2.38V374.60M154.60 374.60V301.31h2.38V374.60M156.97 374.60V301.13h2.38V374.60M159.35 374.60V300.96h2.38V374.60M161.72 374.60V300.78h2.38V374.60M164.10 374.60V300.61h2.38V374.60M166.48 374.60V300.44h2.38V374.60M168.85 374.60V300.26h2.38V374.60M171.23 374.60V300.09h2.38V374.60M173.60 374.60V299.93h2.38V374.60M175.98 374.60V299.76h2.38V374.60M178.36 374.60V299.59h2.38V374.60M180.73 374.60V299.42h2.38V374.60M183.11 374.60V299.25h2.38V374.60M185.48 374.60V299.08h2.38V374.60M187.86 374.60V298.88h2.38V374.60M190.24 374.60V298.64h2.38V374.60M192.61 374.60V298.39h2.38V374.60M194.99 374.60V298.15h2.38V374.60M197.36 374.60V297.91h2.38V374.60M199.74 374.60V297.67h2.38V374.60M202.12 374.60V297.43h2.38V374.60M204.49 374.60V297.19h2.38V374.60M206.87 374.60V296.96h2.38V374.60M209.24 374.60V296.72h2.38V374.60M211.62 374.60V296.49h2.38V374.60M214.00 374.60V296.26h2.38V374.60M216.37 374.60V296.03h2.38V374.60M218.75 374.60V295.28h2.38V374.60M221.12 374.60V294.02h2.38V374.60M223.50 374.60V293.31h2.38V374.60M225.88 374.60V293.17h2.38V374.60M228.25 374.60V293.03h2.38V374.60M230.63 374.60V292.88h2.38V374.60M233.00 374.60V292.74h2.38V374.60M235.38 374.60V292.57h2.38V374.60M237.76 374.60V292.18h2.38V374.60M240.13 374.60V291.79h2.38V374.60M242.51 374.60V291.40h2.38V374.60M244.88 374.60V291.00h2.38V374.60M247.26 374.60V289.96h2.38V374.60M249.64 374.60V288.76h2.38V374.60M252.01 374.60V287.56h2.38V374.60M254.39 374.60V285.26h2.38V374.60M256.76 374.60V281.86h2.38V374.60" fill="#a3a3a3" stroke="#4e4e4e" stroke-width="0.45"/>
<path d="M46.49 315.15V313.68M44.69 313.68h3.60M48.86 313.68V307.44M47.06 307.44h3.60M51.24 312.31V308.28M49.44 308.28h3.60M53.62 311.79V308.49M51.82 308.49h3.60M55.99 311.27V308.33M54.19 308.33h3.60M58.37 310.74V307.81M56.57 307.81h3.60M60.74 310.34V305.20M58.94 305.20h3.60M63.12 309.94V307.01M61.32 307.01h3.60M65.50 309.54V306.60M63.70 306.60h3.60M67.87 309.14V305.84M66.07 305.84h3.60M70.25 308.74V305.07M68.45 305.07h3.60M72.62 308.47V304.80M70.82 304.80h3.60M75.00 308.32V305.95M73.20 305.95h3.60M77.38 308.17V306.31M75.58 306.31h3.60M79.75 308.03V304.07M77.95 304.07h3.60M82.13 307.88V304.77M80.33 304.77h3.60M84.50 307.66V304.10M82.70 304.10h3.60M86.88 307.36V303.26M85.08 303.26h3.60M89.26 307.06V305.22M87.46 305.22h3.60M91.63 306.76V305.94M89.83 305.94h3.60M94.01 306.45V304.58M92.21 304.58h3.60M96.38 306.15V304.83M94.58 304.83h3.60M98.76 305.87V301.51M96.96 301.51h3.60M101.14 305.58V304.74M99.34 304.74h3.60M103.51 305.30V303.79M101.71 303.79h3.60M105.89 305.01V302.69M104.09 302.69h3.60M108.26 304.74V302.33M106.46 302.33h3.60M110.64 304.48V303.01M108.84 303.01h3.60M113.02 304.23V302.40M111.22 302.40h3.60M115.39 303.97V301.11M113.59 301.11h3.60M117.77 303.71V300.36M115.97 300.36h3.60M120.14 303.52V301.83M118.34 301.83h3.60M122.52 303.38V299.94M120.72 299.94h3.60M124.90 303.24V301.08M123.10 301.08h3.60M127.27 303.10V300.58M125.47 300.58h3.60M129.65 302.95V295.61M127.85 295.61h3.60M132.02 302.81V300.52M130.22 300.52h3.60M134.40 302.67V301.43M132.60 301.43h3.60M136.78 302.52V301.21M134.98 301.21h3.60M139.15 302.37V300.01M137.35 300.01h3.60M141.53 302.23V299.29M139.73 299.29h3.60M143.90 302.08V300.13M142.10 300.13h3.60M146.28 301.93V299.64M144.48 299.64h3.60M148.66 301.79V300.52M146.86 300.52h3.60M151.03 301.64V299.50M149.23 299.50h3.60M153.41 301.48V299.83M151.61 299.83h3.60M155.78 301.31V299.77M153.98 299.77h3.60M158.16 301.13V298.19M156.36 298.19h3.60M160.54 300.96V299.30M158.74 299.30h3.60M162.91 300.78V299.35M161.11 299.35h3.60M165.29 300.61V299.33M163.49 299.33h3.60M167.66 300.44V298.60M165.86 298.60h3.60M170.04 300.26V297.15M168.24 297.15h3.60M172.42 300.09V297.45M170.62 297.45h3.60M174.79 299.93V297.44M172.99 297.44h3.60M177.17 299.76V290.95M175.37 290.95h3.60M179.54 299.59V298.36M177.74 298.36h3.60M181.92 299.42V297.39M180.12 297.39h3.60M184.30 299.25V297.14M182.50 297.14h3.60M186.67 299.08V296.81M184.87 296.81h3.60M189.05 298.88V297.57M187.25 297.57h3.60M191.42 298.64V297.80M189.62 297.80h3.60M193.80 298.39V296.76M192.00 296.76h3.60M196.18 298.15V293.75M194.38 293.75h3.60M198.55 297.91V295.76M196.75 295.76h3.60M200.93 297.67V296.25M199.13 296.25h3.60M203.30 297.43V296.69M201.50 296.69h3.60M205.68 297.19V295.69M203.88 295.69h3.60M208.06 296.96V295.78M206.26 295.78h3.60M210.43 296.72V294.51M208.63 294.51h3.60M212.81 296.49V295.63M211.01 295.63h3.60M215.18 296.26V295.45M213.38 295.45h3.60M217.56 296.03V294.91M215.76 294.91h3.60M219.94 295.28V292.94M218.14 292.94h3.60M222.31 294.02V292.11M220.51 292.11h3.60M224.69 293.31V289.53M222.89 289.53h3.60M227.06 293.17V289.87M225.26 289.87h3.60M229.44 293.03V290.23M227.64 290.23h3.60M231.82 292.88V289.23M230.02 289.23h3.60M234.19 292.74V290.75M232.39 290.75h3.60M236.57 292.57V290.85M234.77 290.85h3.60M238.94 292.18V288.51M237.14 288.51h3.60M241.32 291.79V289.31M239.52 289.31h3.60M243.70 291.40V290.15M241.90 290.15h3.60M246.07 291.00V286.60M244.27 286.60h3.60M248.45 289.96V288.94M246.65 288.94h3.60M250.82 288.76V287.88M249.02 287.88h3.60M253.20 287.56V283.16M251.40 283.16h3.60M255.58 285.26V283.90M253.78 283.90h3.60M257.95 281.86V277.46M256.15 277.46h3.60" fill="none" stroke="#404040" stroke-width="0.65"/>
<rect x="34.50" y="264.50" width="235.40" height="110.10" fill="none" stroke="#6c6c6c" stroke-width="1.1"/>
<text class="tk" x="29.30" y="376.50" text-anchor="end">0.00</text>
<text class="tk" x="29.30" y="358.15" text-anchor="end">0.05</text>
<text class="tk" x="29.30" y="339.80" text-anchor="end">0.10</text>
<text class="tk" x="29.30" y="321.45" text-anchor="end">0.15</text>
<text class="tk" x="29.30" y="303.10" text-anchor="end">0.20</text>
<text class="tk" x="29.30" y="284.75" text-anchor="end">0.25</text>
<text class="tk" x="29.30" y="266.40" text-anchor="end">0.30</text>
<path d="M34.50 374.60h-2.2M34.50 356.25h-2.2M34.50 337.90h-2.2M34.50 319.55h-2.2M34.50 301.20h-2.2M34.50 282.85h-2.2M34.50 264.50h-2.2M44.11 374.60v1.9M67.87 374.60v1.9M91.63 374.60v1.9M115.39 374.60v1.9M139.15 374.60v1.9M162.91 374.60v1.9M186.67 374.60v1.9M210.43 374.60v1.9M234.19 374.60v1.9M257.95 374.60v1.9" fill="none" stroke="#6c6c6c" stroke-width="0.8"/>
<text class="lt" x="38.90" y="276.00">e</text>
<text class="yl" transform="translate(12.00 319.00) rotate(-90)" text-anchor="middle">[S] %</text>
</g>
<g>
<path d="M318.20 376.50V331.11h2.38V376.50M320.58 376.50V330.52h2.38V376.50M322.95 376.50V329.93h2.38V376.50M325.33 376.50V329.42h2.38V376.50M327.70 376.50V328.98h2.38V376.50M330.08 376.50V327.81h2.38V376.50M332.46 376.50V325.92h2.38V376.50M334.83 376.50V324.85h2.38V376.50M337.21 376.50V324.59h2.38V376.50M339.58 376.50V324.33h2.38V376.50M341.96 376.50V324.07h2.38V376.50M344.34 376.50V323.82h2.38V376.50M346.71 376.50V323.56h2.38V376.50M349.09 376.50V323.30h2.38V376.50M351.46 376.50V323.00h2.38V376.50M353.84 376.50V322.64h2.38V376.50M356.22 376.50V322.29h2.38V376.50M358.59 376.50V321.94h2.38V376.50M360.97 376.50V321.59h2.38V376.50M363.34 376.50V321.34h2.38V376.50M365.72 376.50V321.20h2.38V376.50M368.10 376.50V321.06h2.38V376.50M370.47 376.50V320.92h2.38V376.50M372.85 376.50V320.78h2.38V376.50M375.22 376.50V320.63h2.38V376.50M377.60 376.50V320.51h2.38V376.50M379.98 376.50V320.39h2.38V376.50M382.35 376.50V320.27h2.38V376.50M384.73 376.50V320.14h2.38V376.50M387.10 376.50V320.02h2.38V376.50M389.48 376.50V319.85h2.38V376.50M391.86 376.50V319.63h2.38V376.50M394.23 376.50V319.41h2.38V376.50M396.61 376.50V319.19h2.38V376.50M398.98 376.50V318.97h2.38V376.50M401.36 376.50V318.79h2.38V376.50M403.74 376.50V318.64h2.38V376.50M406.11 376.50V318.50h2.38V376.50M408.49 376.50V318.36h2.38V376.50M410.86 376.50V318.21h2.38V376.50M413.24 376.50V318.16h2.38V376.50M415.62 376.50V318.11h2.38V376.50M417.99 376.50V318.06h2.38V376.50M420.37 376.50V318.02h2.38V376.50M422.74 376.50V317.97h2.38V376.50M425.12 376.50V317.92h2.38V376.50M427.50 376.50V317.88h2.38V376.50M429.87 376.50V317.83h2.38V376.50M432.25 376.50V317.78h2.38V376.50M434.62 376.50V317.64h2.38V376.50M437.00 376.50V317.40h2.38V376.50M439.38 376.50V317.16h2.38V376.50M441.75 376.50V316.92h2.38V376.50M444.13 376.50V316.68h2.38V376.50M446.50 376.50V316.44h2.38V376.50M448.88 376.50V316.04h2.38V376.50M451.26 376.50V315.64h2.38V376.50M453.63 376.50V315.24h2.38V376.50M456.01 376.50V314.84h2.38V376.50M458.38 376.50V314.44h2.38V376.50M460.76 376.50V314.06h2.38V376.50M463.14 376.50V313.71h2.38V376.50M465.51 376.50V313.36h2.38V376.50M467.89 376.50V313.01h2.38V376.50M470.26 376.50V312.66h2.38V376.50M472.64 376.50V312.36h2.38V376.50M475.02 376.50V312.13h2.38V376.50M477.39 376.50V311.89h2.38V376.50M479.77 376.50V311.65h2.38V376.50M482.14 376.50V311.42h2.38V376.50M484.52 376.50V311.18h2.38V376.50M486.90 376.50V310.74h2.38V376.50M489.27 376.50V310.28h2.38V376.50M491.65 376.50V309.81h2.38V376.50M494.02 376.50V309.35h2.38V376.50M496.40 376.50V308.88h2.38V376.50M498.78 376.50V308.46h2.38V376.50M501.15 376.50V308.08h2.38V376.50M503.53 376.50V307.71h2.38V376.50M505.90 376.50V307.33h2.38V376.50M508.28 376.50V306.95h2.38V376.50M510.66 376.50V306.49h2.38V376.50M513.03 376.50V305.94h2.38V376.50M515.41 376.50V305.38h2.38V376.50M517.78 376.50V304.83h2.38V376.50M520.16 376.50V302.77h2.38V376.50M522.54 376.50V299.20h2.38V376.50M524.91 376.50V298.27h2.38V376.50M527.29 376.50V296.64h2.38V376.50M529.66 376.50V294.00h2.38V376.50" fill="#a3a3a3" stroke="#4e4e4e" stroke-width="0.45"/>
<path d="M319.39 331.11V327.15M317.59 327.15h3.60M321.76 330.52V327.24M319.96 327.24h3.60M324.14 329.93V324.65M322.34 324.65h3.60M326.52 329.42V325.25M324.72 325.25h3.60M328.89 328.98V325.74M327.09 325.74h3.60M331.27 327.81V322.09M329.47 322.09h3.60M333.64 325.92V320.93M331.84 320.93h3.60M336.02 324.85V319.15M334.22 319.15h3.60M338.40 324.59V321.38M336.60 321.38h3.60M340.77 324.33V320.75M338.97 320.75h3.60M343.15 324.07V318.92M341.35 318.92h3.60M345.52 323.82V317.39M343.72 317.39h3.60M347.90 323.56V317.07M346.10 317.07h3.60M350.28 323.30V321.20M348.48 321.20h3.60M352.65 323.00V319.76M350.85 319.76h3.60M355.03 322.64V321.69M353.23 321.69h3.60M357.40 322.29V319.79M355.60 319.79h3.60M359.78 321.94V314.90M357.98 314.90h3.60M362.16 321.59V319.21M360.36 319.21h3.60M364.53 321.34V315.62M362.73 315.62h3.60M366.91 321.20V320.43M365.11 320.43h3.60M369.28 321.06V314.01M367.48 314.01h3.60M371.66 320.92V314.24M369.86 314.24h3.60M374.04 320.78V316.65M372.24 316.65h3.60M376.41 320.63V318.78M374.61 318.78h3.60M378.79 320.51V313.03M376.99 313.03h3.60M381.16 320.39V318.04M379.36 318.04h3.60M383.54 320.27V317.71M381.74 317.71h3.60M385.92 320.14V319.38M384.12 319.38h3.60M388.29 320.02V319.15M386.49 319.15h3.60M390.67 319.85V314.57M388.87 314.57h3.60M393.04 319.63V318.33M391.24 318.33h3.60M395.42 319.41V315.88M393.62 315.88h3.60M397.80 319.19V316.12M396.00 316.12h3.60M400.17 318.97V316.35M398.37 316.35h3.60M402.55 318.79V315.37M400.75 315.37h3.60M404.92 318.64V315.85M403.12 315.85h3.60M407.30 318.50V313.22M405.50 313.22h3.60M412.05 318.21V315.24M410.25 315.24h3.60M414.43 318.16V313.76M412.63 313.76h3.60M416.80 318.11V316.97M415.00 316.97h3.60M419.18 318.06V315.36M417.38 315.36h3.60M421.56 318.02V314.11M419.76 314.11h3.60M423.93 317.97V316.95M422.13 316.95h3.60M426.31 317.92V314.69M424.51 314.69h3.60M428.68 317.88V314.97M426.88 314.97h3.60M431.06 317.83V312.97M429.26 312.97h3.60M433.44 317.78V313.34M431.64 313.34h3.60M435.81 317.64V311.66M434.01 311.66h3.60M438.19 317.40V311.87M436.39 311.87h3.60M440.56 317.16V311.44M438.76 311.44h3.60M442.94 316.92V309.92M441.14 309.92h3.60M445.32 316.68V310.38M443.52 310.38h3.60M447.69 316.44V309.76M445.89 309.76h3.60M450.07 316.04V312.69M448.27 312.69h3.60M452.44 315.64V314.02M450.64 314.02h3.60M454.82 315.24V312.08M453.02 312.08h3.60M457.20 314.84V311.96M455.40 311.96h3.60M459.57 314.44V312.71M457.77 312.71h3.60M461.95 314.06V312.66M460.15 312.66h3.60M464.32 313.71V312.88M462.52 312.88h3.60M466.70 313.36V307.76M464.90 307.76h3.60M469.08 313.01V307.23M467.28 307.23h3.60M471.45 312.66V308.31M469.65 308.31h3.60M473.83 312.36V306.64M472.03 306.64h3.60M476.20 312.13V307.29M474.40 307.29h3.60M478.58 311.89V309.25M476.78 309.25h3.60M480.96 311.65V309.67M479.16 309.67h3.60M483.33 311.42V307.77M481.53 307.77h3.60M485.71 311.18V309.80M483.91 309.80h3.60M488.08 310.74V309.03M486.28 309.03h3.60M490.46 310.28V309.31M488.66 309.31h3.60M492.84 309.81V307.25M491.04 307.25h3.60M495.21 309.35V307.22M493.41 307.22h3.60M497.59 308.88V307.91M495.79 307.91h3.60M499.96 308.46V305.45M498.16 305.45h3.60M502.34 308.08V306.10M500.54 306.10h3.60M504.72 307.71V302.62M502.92 302.62h3.60M507.09 307.33V303.29M505.29 303.29h3.60M509.47 306.95V301.64M507.67 301.64h3.60M511.84 306.49V302.08M510.04 302.08h3.60M514.22 305.94V302.50M512.42 302.50h3.60M516.60 305.38V286.46M514.80 286.46h3.60M518.97 304.83V302.35M517.17 302.35h3.60M521.35 302.77V298.24M519.55 298.24h3.60M523.72 299.20V297.91M521.92 297.91h3.60M526.10 298.27V294.36M524.30 294.36h3.60M528.48 296.64V292.77M526.68 292.77h3.60M530.85 294.00V280.36M529.05 280.36h3.60" fill="none" stroke="#404040" stroke-width="0.65"/>
<rect x="307.50" y="266.50" width="235.60" height="110.00" fill="none" stroke="#6c6c6c" stroke-width="1.1"/>
<text class="tk" x="302.30" y="378.40" text-anchor="end">0</text>
<text class="tk" x="302.30" y="356.40" text-anchor="end">5</text>
<text class="tk" x="302.30" y="334.40" text-anchor="end">10</text>
<text class="tk" x="302.30" y="312.40" text-anchor="end">15</text>
<text class="tk" x="302.30" y="290.40" text-anchor="end">20</text>
<text class="tk" x="302.30" y="268.40" text-anchor="end">25</text>
<path d="M307.50 376.50h-2.2M307.50 354.50h-2.2M307.50 332.50h-2.2M307.50 310.50h-2.2M307.50 288.50h-2.2M307.50 266.50h-2.2M317.01 376.50v1.9M340.77 376.50v1.9M364.53 376.50v1.9M388.29 376.50v1.9M412.05 376.50v1.9M435.81 376.50v1.9M459.57 376.50v1.9M483.33 376.50v1.9M507.09 376.50v1.9M530.85 376.50v1.9" fill="none" stroke="#6c6c6c" stroke-width="0.8"/>
<text class="lt" x="312.90" y="283.10">f</text>
<text class="yl" transform="translate(293.10 322.00) rotate(-90)" text-anchor="middle">[B] µg g<tspan dy="-6.3" dx="0.3" style="font-size:8px;stroke-width:.1px">-1</tspan></text>
</g>
<g>
<path d="M46.60 509.30V468.66h2.38V509.30M48.98 509.30V468.56h2.38V509.30M51.35 509.30V465.35h2.38V509.30M53.73 509.30V463.89h2.38V509.30M56.10 509.30V463.44h2.38V509.30M58.48 509.30V462.99h2.38V509.30M60.86 509.30V462.54h2.38V509.30M63.23 509.30V462.02h2.38V509.30M65.61 509.30V461.45h2.38V509.30M67.98 509.30V460.87h2.38V509.30M70.36 509.30V460.29h2.38V509.30M72.74 509.30V459.74h2.38V509.30M75.11 509.30V459.41h2.38V509.30M77.49 509.30V459.08h2.38V509.30M79.86 509.30V458.74h2.38V509.30M82.24 509.30V458.41h2.38V509.30M84.62 509.30V458.08h2.38V509.30M86.99 509.30V457.91h2.38V509.30M89.37 509.30V457.79h2.38V509.30M91.74 509.30V457.67h2.38V509.30M94.12 509.30V457.54h2.38V509.30M96.50 509.30V457.42h2.38V509.30M98.87 509.30V457.30h2.38V509.30M101.25 509.30V457.12h2.38V509.30M103.62 509.30V456.88h2.38V509.30M106.00 509.30V456.64h2.38V509.30M108.38 509.30V456.40h2.38V509.30M110.75 509.30V456.16h2.38V509.30M113.13 509.30V455.91h2.38V509.30M115.50 509.30V455.69h2.38V509.30M117.88 509.30V455.47h2.38V509.30M120.26 509.30V455.25h2.38V509.30M122.63 509.30V455.03h2.38V509.30M125.01 509.30V454.81h2.38V509.30M127.38 509.30V454.58h2.38V509.30M129.76 509.30V454.33h2.38V509.30M132.14 509.30V454.08h2.38V509.30M134.51 509.30V453.83h2.38V509.30M136.89 509.30V453.60h2.38V509.30M139.26 509.30V453.39h2.38V509.30M141.64 509.30V453.18h2.38V509.30M144.02 509.30V452.98h2.38V509.30M146.39 509.30V452.77h2.38V509.30M148.77 509.30V452.56h2.38V509.30M151.14 509.30V452.35h2.38V509.30M153.52 509.30V452.14h2.38V509.30M155.90 509.30V451.93h2.38V509.30M158.27 509.30V451.72h2.38V509.30M160.65 509.30V451.49h2.38V509.30M163.02 509.30V451.25h2.38V509.30M165.40 509.30V451.01h2.38V509.30M167.78 509.30V450.77h2.38V509.30M170.15 509.30V450.53h2.38V509.30M172.53 509.30V450.28h2.38V509.30M174.90 509.30V450.04h2.38V509.30M177.28 509.30V449.80h2.38V509.30M179.66 509.30V449.56h2.38V509.30M182.03 509.30V449.32h2.38V509.30M184.41 509.30V449.08h2.38V509.30M186.78 509.30V448.93h2.38V509.30M189.16 509.30V448.78h2.38V509.30M191.54 509.30V448.63h2.38V509.30M193.91 509.30V448.49h2.38V509.30M196.29 509.30V448.34h2.38V509.30M198.66 509.30V448.19h2.38V509.30M201.04 509.30V448.05h2.38V509.30M203.42 509.30V447.90h2.38V509.30M205.79 509.30V447.75h2.38V509.30M208.17 509.30V447.61h2.38V509.30M210.54 509.30V447.37h2.38V509.30M212.92 509.30V447.05h2.38V509.30M215.30 509.30V446.73h2.38V509.30M217.67 509.30V446.41h2.38V509.30M220.05 509.30V446.09h2.38V509.30M222.42 509.30V445.77h2.38V509.30M224.80 509.30V445.45h2.38V509.30M227.18 509.30V445.13h2.38V509.30M229.55 509.30V444.80h2.38V509.30M231.93 509.30V444.48h2.38V509.30M234.30 509.30V444.16h2.38V509.30M236.68 509.30V443.82h2.38V509.30M239.06 509.30V443.45h2.38V509.30M241.43 509.30V443.08h2.38V509.30M243.81 509.30V442.72h2.38V509.30M246.18 509.30V442.00h2.38V509.30M248.56 509.30V439.04h2.38V509.30M250.94 509.30V435.99h2.38V509.30M253.31 509.30V434.30h2.38V509.30M255.69 509.30V432.81h2.38V509.30M258.06 509.30V431.32h2.38V509.30" fill="#a3a3a3" stroke="#4e4e4e" stroke-width="0.45"/>
<path d="M50.16 468.56V467.18M48.36 467.18h3.60M52.54 465.35V463.29M50.74 463.29h3.60M54.92 463.89V461.32M53.12 461.32h3.60M57.29 463.44V461.94M55.49 461.94h3.60M59.67 462.99V461.62M57.87 461.62h3.60M64.42 462.02V458.21M62.62 458.21h3.60M66.80 461.45V457.23M65.00 457.23h3.60M69.17 460.87V459.04M67.37 459.04h3.60M71.55 460.29V457.54M69.75 457.54h3.60M73.92 459.74V457.74M72.12 457.74h3.60M76.30 459.41V456.74M74.50 456.74h3.60M78.68 459.08V457.78M76.88 457.78h3.60M81.05 458.74V458.02M79.25 458.02h3.60M83.43 458.41V456.56M81.63 456.56h3.60M85.80 458.08V456.83M84.00 456.83h3.60M88.18 457.91V456.89M86.38 456.89h3.60M90.56 457.79V456.24M88.76 456.24h3.60M92.93 457.67V454.09M91.13 454.09h3.60M95.31 457.54V453.92M93.51 453.92h3.60M97.68 457.42V454.97M95.88 454.97h3.60M100.06 457.30V453.99M98.26 453.99h3.60M102.44 457.12V455.92M100.64 455.92h3.60M104.81 456.88V454.41M103.01 454.41h3.60M107.19 456.64V455.25M105.39 455.25h3.60M109.56 456.40V455.41M107.76 455.41h3.60M111.94 456.16V454.96M110.14 454.96h3.60M114.32 455.91V454.84M112.52 454.84h3.60M116.69 455.69V453.03M114.89 453.03h3.60M119.07 455.47V452.52M117.27 452.52h3.60M121.44 455.25V454.48M119.64 454.48h3.60M123.82 455.03V453.84M122.02 453.84h3.60M126.20 454.81V452.05M124.40 452.05h3.60M128.57 454.58V452.65M126.77 452.65h3.60M130.95 454.33V453.43M129.15 453.43h3.60M135.70 453.83V451.30M133.90 451.30h3.60M138.08 453.60V450.05M136.28 450.05h3.60M140.45 453.39V452.50M138.65 452.50h3.60M142.83 453.18V451.33M141.03 451.33h3.60M147.58 452.77V451.61M145.78 451.61h3.60M149.96 452.56V451.28M148.16 451.28h3.60M152.33 452.35V451.42M150.53 451.42h3.60M154.71 452.14V451.13M152.91 451.13h3.60M157.08 451.93V449.17M155.28 449.17h3.60M159.46 451.72V450.88M157.66 450.88h3.60M164.21 451.25V450.37M162.41 450.37h3.60M166.59 451.01V449.41M164.79 449.41h3.60M168.96 450.77V448.71M167.16 448.71h3.60M171.34 450.53V448.16M169.54 448.16h3.60M173.72 450.28V447.55M171.92 447.55h3.60M176.09 450.04V447.64M174.29 447.64h3.60M178.47 449.80V447.48M176.67 447.48h3.60M180.84 449.56V445.55M179.04 445.55h3.60M183.22 449.32V445.47M181.42 445.47h3.60M185.60 449.08V445.72M183.80 445.72h3.60M187.97 448.93V443.97M186.17 443.97h3.60M190.35 448.78V444.92M188.55 444.92h3.60M192.72 448.63V445.33M190.92 445.33h3.60M195.10 448.49V445.35M193.30 445.35h3.60M197.48 448.34V445.93M195.68 445.93h3.60M199.85 448.19V444.06M198.05 444.06h3.60M202.23 448.05V444.23M200.43 444.23h3.60M204.60 447.90V446.27M202.80 446.27h3.60M206.98 447.75V445.82M205.18 445.82h3.60M209.36 447.61V445.24M207.56 445.24h3.60M211.73 447.37V446.29M209.93 446.29h3.60M216.48 446.73V444.87M214.68 444.87h3.60M218.86 446.41V444.78M217.06 444.78h3.60M221.24 446.09V444.78M219.44 444.78h3.60M223.61 445.77V443.84M221.81 443.84h3.60M228.36 445.13V438.51M226.56 438.51h3.60M235.49 444.16V442.77M233.69 442.77h3.60M237.87 443.82V442.40M236.07 442.40h3.60M242.62 443.08V442.10M240.82 442.10h3.60M245.00 442.72V441.78M243.20 441.78h3.60M247.37 442.00V440.23M245.57 440.23h3.60M249.75 439.04V438.13M247.95 438.13h3.60M252.12 435.99V431.58M250.32 431.58h3.60M254.50 434.30V426.57M252.70 426.57h3.60M256.88 432.81V416.26M255.08 416.26h3.60M259.25 431.32V428.56M257.45 428.56h3.60" fill="none" stroke="#404040" stroke-width="0.65"/>
<rect x="36.50" y="399.00" width="235.10" height="110.30" fill="none" stroke="#6c6c6c" stroke-width="1.1"/>
<text class="tk" x="31.30" y="511.20" text-anchor="end">0</text>
<text class="tk" x="31.30" y="489.14" text-anchor="end">20</text>
<text class="tk" x="31.30" y="467.08" text-anchor="end">40</text>
<text class="tk" x="31.30" y="445.02" text-anchor="end">60</text>
<text class="tk" x="31.30" y="422.96" text-anchor="end">80</text>
<text class="tk" x="31.30" y="400.90" text-anchor="end">100</text>
<path d="M36.50 509.30h-2.2M36.50 487.24h-2.2M36.50 465.18h-2.2M36.50 443.12h-2.2M36.50 421.06h-2.2M36.50 399.00h-2.2M45.41 509.30v1.9M69.17 509.30v1.9M92.93 509.30v1.9M116.69 509.30v1.9M140.45 509.30v1.9M164.21 509.30v1.9M187.97 509.30v1.9M211.73 509.30v1.9M235.49 509.30v1.9M259.25 509.30v1.9" fill="none" stroke="#6c6c6c" stroke-width="0.8"/>
<text class="lt" x="41.00" y="415.50">g</text>
<text class="yl" transform="translate(18.80 454.30) rotate(-90)" text-anchor="middle">[Zn] µg g<tspan dy="-6.3" dx="0.3" style="font-size:8px;stroke-width:.1px">-1</tspan></text>
</g>
<g>
<path d="M317.80 508.40V461.17h2.38V508.40M320.18 508.40V460.53h2.38V508.40M322.55 508.40V459.90h2.38V508.40M324.93 508.40V459.26h2.38V508.40M327.30 508.40V458.52h2.38V508.40M329.68 508.40V457.76h2.38V508.40M332.06 508.40V457.00h2.38V508.40M334.43 508.40V456.23h2.38V508.40M336.81 508.40V455.47h2.38V508.40M339.18 508.40V454.85h2.38V508.40M341.56 508.40V454.37h2.38V508.40M343.94 508.40V453.90h2.38V508.40M346.31 508.40V453.42h2.38V508.40M348.69 508.40V452.94h2.38V508.40M351.06 508.40V452.47h2.38V508.40M353.44 508.40V452.02h2.38V508.40M355.82 508.40V451.57h2.38V508.40M358.19 508.40V451.12h2.38V508.40M360.57 508.40V450.67h2.38V508.40M362.94 508.40V450.22h2.38V508.40M365.32 508.40V449.92h2.38V508.40M367.70 508.40V449.68h2.38V508.40M370.07 508.40V449.44h2.38V508.40M372.45 508.40V449.20h2.38V508.40M374.82 508.40V448.96h2.38V508.40M377.20 508.40V448.72h2.38V508.40M379.58 508.40V448.49h2.38V508.40M381.95 508.40V448.25h2.38V508.40M384.33 508.40V448.02h2.38V508.40M386.70 508.40V447.79h2.38V508.40M389.08 508.40V447.55h2.38V508.40M391.46 508.40V447.12h2.38V508.40M393.83 508.40V446.68h2.38V508.40M396.21 508.40V446.25h2.38V508.40M398.58 508.40V445.81h2.38V508.40M400.96 508.40V445.38h2.38V508.40M403.34 508.40V444.98h2.38V508.40M405.71 508.40V444.61h2.38V508.40M408.09 508.40V444.24h2.38V508.40M410.46 508.40V443.87h2.38V508.40M412.84 508.40V443.56h2.38V508.40M415.22 508.40V443.29h2.38V508.40M417.59 508.40V443.03h2.38V508.40M419.97 508.40V442.76h2.38V508.40M422.34 508.40V442.50h2.38V508.40M424.72 508.40V442.23h2.38V508.40M427.10 508.40V441.97h2.38V508.40M429.47 508.40V441.70h2.38V508.40M431.85 508.40V441.44h2.38V508.40M434.22 508.40V441.17h2.38V508.40M436.60 508.40V440.92h2.38V508.40M438.98 508.40V440.68h2.38V508.40M441.35 508.40V440.44h2.38V508.40M443.73 508.40V440.20h2.38V508.40M446.10 508.40V439.96h2.38V508.40M448.48 508.40V439.72h2.38V508.40M450.86 508.40V439.48h2.38V508.40M453.23 508.40V439.24h2.38V508.40M455.61 508.40V439.00h2.38V508.40M457.98 508.40V438.76h2.38V508.40M460.36 508.40V438.51h2.38V508.40M462.74 508.40V438.16h2.38V508.40M465.11 508.40V437.81h2.38V508.40M467.49 508.40V437.47h2.38V508.40M469.86 508.40V437.12h2.38V508.40M472.24 508.40V436.77h2.38V508.40M474.62 508.40V436.43h2.38V508.40M476.99 508.40V436.08h2.38V508.40M479.37 508.40V435.73h2.38V508.40M481.74 508.40V435.39h2.38V508.40M484.12 508.40V435.04h2.38V508.40M486.50 508.40V434.53h2.38V508.40M488.87 508.40V433.86h2.38V508.40M491.25 508.40V433.20h2.38V508.40M493.62 508.40V432.53h2.38V508.40M496.00 508.40V431.86h2.38V508.40M498.38 508.40V431.19h2.38V508.40M500.75 508.40V430.72h2.38V508.40M503.13 508.40V430.25h2.38V508.40M505.50 508.40V429.79h2.38V508.40M507.88 508.40V429.32h2.38V508.40M510.26 508.40V428.85h2.38V508.40M512.63 508.40V428.29h2.38V508.40M515.01 508.40V427.65h2.38V508.40M517.38 508.40V427.01h2.38V508.40M519.76 508.40V426.36h2.38V508.40M522.14 508.40V424.76h2.38V508.40M524.51 508.40V422.18h2.38V508.40M526.89 508.40V419.06h2.38V508.40M529.26 508.40V415.38h2.38V508.40" fill="#a3a3a3" stroke="#4e4e4e" stroke-width="0.45"/>
<path d="M318.99 461.17V457.68M317.19 457.68h3.60M321.36 460.53V456.77M319.56 456.77h3.60M323.74 459.90V457.76M321.94 457.76h3.60M326.12 459.26V457.34M324.32 457.34h3.60M328.49 458.52V456.68M326.69 456.68h3.60M330.87 457.76V454.08M329.07 454.08h3.60M333.24 457.00V452.89M331.44 452.89h3.60M335.62 456.23V452.32M333.82 452.32h3.60M338.00 455.47V453.20M336.20 453.20h3.60M340.37 454.85V453.50M338.57 453.50h3.60M342.75 454.37V452.75M340.95 452.75h3.60M345.12 453.90V452.75M343.32 452.75h3.60M347.50 453.42V452.46M345.70 452.46h3.60M349.88 452.94V451.91M348.08 451.91h3.60M352.25 452.47V451.39M350.45 451.39h3.60M354.63 452.02V449.27M352.83 449.27h3.60M357.00 451.57V449.69M355.20 449.69h3.60M359.38 451.12V449.34M357.58 449.34h3.60M361.76 450.67V447.76M359.96 447.76h3.60M364.13 450.22V447.97M362.33 447.97h3.60M366.51 449.92V446.98M364.71 446.98h3.60M368.88 449.68V448.06M367.08 448.06h3.60M371.26 449.44V446.29M369.46 446.29h3.60M373.64 449.20V447.41M371.84 447.41h3.60M376.01 448.96V447.04M374.21 447.04h3.60M378.39 448.72V444.68M376.59 444.68h3.60M380.76 448.49V444.44M378.96 444.44h3.60M383.14 448.25V445.42M381.34 445.42h3.60M385.52 448.02V446.27M383.72 446.27h3.60M387.89 447.79V446.25M386.09 446.25h3.60M390.27 447.55V441.67M388.47 441.67h3.60M392.64 447.12V444.76M390.84 444.76h3.60M395.02 446.68V444.08M393.22 444.08h3.60M397.40 446.25V444.02M395.60 444.02h3.60M399.77 445.81V444.01M397.97 444.01h3.60M402.15 445.38V443.93M400.35 443.93h3.60M404.52 444.98V443.16M402.72 443.16h3.60M406.90 444.61V442.65M405.10 442.65h3.60M409.28 444.24V443.22M407.48 443.22h3.60M411.65 443.87V441.60M409.85 441.60h3.60M414.03 443.56V441.31M412.23 441.31h3.60M416.40 443.29V437.78M414.60 437.78h3.60M418.78 443.03V430.89M416.98 430.89h3.60M421.16 442.76V441.40M419.36 441.40h3.60M425.91 442.23V440.18M424.11 440.18h3.60M428.28 441.97V440.26M426.48 440.26h3.60M433.04 441.44V440.43M431.24 440.43h3.60M435.41 441.17V440.14M433.61 440.14h3.60M437.79 440.92V439.34M435.99 439.34h3.60M440.16 440.68V439.92M438.36 439.92h3.60M442.54 440.44V435.66M440.74 435.66h3.60M444.92 440.20V438.18M443.12 438.18h3.60M447.29 439.96V437.96M445.49 437.96h3.60M449.67 439.72V438.83M447.87 438.83h3.60M452.04 439.48V438.20M450.24 438.20h3.60M456.80 439.00V432.38M455.00 432.38h3.60M459.17 438.76V437.16M457.37 437.16h3.60M461.55 438.51V435.85M459.75 435.85h3.60M463.92 438.16V436.03M462.12 436.03h3.60M466.30 437.81V434.03M464.50 434.03h3.60M468.68 437.47V435.04M466.88 435.04h3.60M471.05 437.12V435.28M469.25 435.28h3.60M473.43 436.77V435.54M471.63 435.54h3.60M475.80 436.43V435.11M474.00 435.11h3.60M478.18 436.08V433.73M476.38 433.73h3.60M480.56 435.73V434.09M478.76 434.09h3.60M482.93 435.39V434.41M481.13 434.41h3.60M485.31 435.04V432.51M483.51 432.51h3.60M487.68 434.53V431.91M485.88 431.91h3.60M490.06 433.86V432.21M488.26 432.21h3.60M492.44 433.20V431.36M490.64 431.36h3.60M494.81 432.53V425.91M493.01 425.91h3.60M497.19 431.86V428.48M495.39 428.48h3.60M499.56 431.19V424.94M497.76 424.94h3.60M501.94 430.72V427.42M500.14 427.42h3.60M504.32 430.25V420.69M502.52 420.69h3.60M506.69 429.79V419.12M504.89 419.12h3.60M509.07 429.32V424.91M507.27 424.91h3.60M511.44 428.85V424.44M509.64 424.44h3.60M513.82 428.29V419.84M512.02 419.84h3.60M516.20 427.65V425.71M514.40 425.71h3.60M518.57 427.01V424.85M516.77 424.85h3.60M520.95 426.36V422.69M519.15 422.69h3.60M523.32 424.76V420.35M521.52 420.35h3.60M525.70 422.18V417.03M523.90 417.03h3.60M528.08 419.06V417.50M526.28 417.50h3.60M530.45 415.38V411.70M528.65 411.70h3.60" fill="none" stroke="#404040" stroke-width="0.65"/>
<rect x="306.50" y="398.10" width="235.90" height="110.30" fill="none" stroke="#6c6c6c" stroke-width="1.1"/>
<text class="tk" x="301.30" y="510.30" text-anchor="end">0</text>
<text class="tk" x="301.30" y="491.92" text-anchor="end">5</text>
<text class="tk" x="301.30" y="473.53" text-anchor="end">10</text>
<text class="tk" x="301.30" y="455.15" text-anchor="end">15</text>
<text class="tk" x="301.30" y="436.77" text-anchor="end">20</text>
<text class="tk" x="301.30" y="418.38" text-anchor="end">25</text>
<text class="tk" x="301.30" y="400.00" text-anchor="end">30</text>
<path d="M306.50 508.40h-2.2M306.50 490.02h-2.2M306.50 471.63h-2.2M306.50 453.25h-2.2M306.50 434.87h-2.2M306.50 416.48h-2.2M306.50 398.10h-2.2M316.61 508.40v1.9M340.37 508.40v1.9M364.13 508.40v1.9M387.89 508.40v1.9M411.65 508.40v1.9M435.41 508.40v1.9M459.17 508.40v1.9M482.93 508.40v1.9M506.69 508.40v1.9M530.45 508.40v1.9" fill="none" stroke="#6c6c6c" stroke-width="0.8"/>
<text class="lt" x="312.10" y="414.00">h</text>
<text class="yl" transform="translate(291.70 453.20) rotate(-90)" text-anchor="middle">[Mn] µg g<tspan dy="-6.3" dx="0.3" style="font-size:8px;stroke-width:.1px">-1</tspan></text>
</g>
<g>
<path d="M48.90 641.50V592.91h2.38V641.50M51.28 641.50V592.76h2.38V641.50M53.65 641.50V592.60h2.38V641.50M56.03 641.50V592.16h2.38V641.50M58.40 641.50V591.45h2.38V641.50M60.78 641.50V590.74h2.38V641.50M63.16 641.50V590.21h2.38V641.50M65.53 641.50V589.85h2.38V641.50M67.91 641.50V589.49h2.38V641.50M70.28 641.50V589.13h2.38V641.50M72.66 641.50V588.77h2.38V641.50M75.04 641.50V588.41h2.38V641.50M77.41 641.50V588.08h2.38V641.50M79.79 641.50V587.75h2.38V641.50M82.16 641.50V587.42h2.38V641.50M84.54 641.50V587.09h2.38V641.50M86.92 641.50V586.76h2.38V641.50M89.29 641.50V586.52h2.38V641.50M91.67 641.50V586.38h2.38V641.50M94.04 641.50V586.24h2.38V641.50M96.42 641.50V586.10h2.38V641.50M98.80 641.50V585.96h2.38V641.50M101.17 641.50V585.77h2.38V641.50M103.55 641.50V585.55h2.38V641.50M105.92 641.50V585.32h2.38V641.50M108.30 641.50V585.09h2.38V641.50M110.68 641.50V584.87h2.38V641.50M113.05 641.50V584.64h2.38V641.50M115.43 641.50V584.40h2.38V641.50M117.80 641.50V584.15h2.38V641.50M120.18 641.50V583.90h2.38V641.50M122.56 641.50V583.65h2.38V641.50M124.93 641.50V583.40h2.38V641.50M127.31 641.50V583.15h2.38V641.50M129.68 641.50V582.89h2.38V641.50M132.06 641.50V582.64h2.38V641.50M134.44 641.50V582.38h2.38V641.50M136.81 641.50V582.21h2.38V641.50M139.19 641.50V582.14h2.38V641.50M141.56 641.50V582.07h2.38V641.50M143.94 641.50V582.00h2.38V641.50M146.32 641.50V581.93h2.38V641.50M148.69 641.50V581.86h2.38V641.50M151.07 641.50V581.79h2.38V641.50M153.44 641.50V581.72h2.38V641.50M155.82 641.50V581.65h2.38V641.50M158.20 641.50V581.57h2.38V641.50M160.57 641.50V581.47h2.38V641.50M162.95 641.50V581.33h2.38V641.50M165.32 641.50V581.18h2.38V641.50M167.70 641.50V581.04h2.38V641.50M170.08 641.50V580.90h2.38V641.50M172.45 641.50V580.76h2.38V641.50M174.83 641.50V580.62h2.38V641.50M177.20 641.50V580.48h2.38V641.50M179.58 641.50V580.34h2.38V641.50M181.96 641.50V580.19h2.38V641.50M184.33 641.50V580.05h2.38V641.50M186.71 641.50V579.66h2.38V641.50M189.08 641.50V579.23h2.38V641.50M191.46 641.50V578.81h2.38V641.50M193.84 641.50V578.38h2.38V641.50M196.21 641.50V577.96h2.38V641.50M198.59 641.50V577.49h2.38V641.50M200.96 641.50V576.99h2.38V641.50M203.34 641.50V576.48h2.38V641.50M205.72 641.50V575.97h2.38V641.50M208.09 641.50V575.46h2.38V641.50M210.47 641.50V574.95h2.38V641.50M212.84 641.50V574.48h2.38V641.50M215.22 641.50V574.01h2.38V641.50M217.60 641.50V573.55h2.38V641.50M219.97 641.50V573.08h2.38V641.50M222.35 641.50V572.61h2.38V641.50M224.72 641.50V572.19h2.38V641.50M227.10 641.50V571.83h2.38V641.50M229.48 641.50V571.47h2.38V641.50M231.85 641.50V571.10h2.38V641.50M234.23 641.50V570.74h2.38V641.50M236.60 641.50V570.18h2.38V641.50M238.98 641.50V569.42h2.38V641.50M241.36 641.50V568.66h2.38V641.50M243.73 641.50V567.90h2.38V641.50M246.11 641.50V567.15h2.38V641.50M248.48 641.50V565.62h2.38V641.50M250.86 641.50V563.25h2.38V641.50M253.24 641.50V561.89h2.38V641.50M255.61 641.50V561.62h2.38V641.50M257.99 641.50V561.34h2.38V641.50M260.36 641.50V544.65h2.38V641.50" fill="#a3a3a3" stroke="#4e4e4e" stroke-width="0.45"/>
<path d="M50.09 592.91V591.55M48.29 591.55h3.60M52.46 592.76V589.90M50.66 589.90h3.60M54.84 592.60V590.78M53.04 590.78h3.60M57.22 592.16V590.98M55.42 590.98h3.60M59.59 591.45V588.73M57.79 588.73h3.60M61.97 590.74V589.27M60.17 589.27h3.60M64.34 590.21V587.24M62.54 587.24h3.60M66.72 589.85V586.33M64.92 586.33h3.60M69.10 589.49V586.61M67.30 586.61h3.60M71.47 589.13V586.10M69.67 586.10h3.60M73.85 588.77V586.22M72.05 586.22h3.60M76.22 588.41V586.37M74.42 586.37h3.60M78.60 588.08V584.64M76.80 584.64h3.60M80.98 587.75V584.78M79.18 584.78h3.60M83.35 587.42V585.96M81.55 585.96h3.60M85.73 587.09V585.67M83.93 585.67h3.60M88.10 586.76V584.77M86.30 584.77h3.60M90.48 586.52V584.34M88.68 584.34h3.60M92.86 586.38V583.84M91.06 583.84h3.60M95.23 586.24V582.29M93.43 582.29h3.60M97.61 586.10V583.73M95.81 583.73h3.60M99.98 585.96V584.99M98.18 584.99h3.60M102.36 585.77V584.25M100.56 584.25h3.60M104.74 585.55V583.90M102.94 583.90h3.60M107.11 585.32V584.33M105.31 584.33h3.60M109.49 585.09V582.89M107.69 582.89h3.60M111.86 584.87V581.69M110.06 581.69h3.60M114.24 584.64V582.42M112.44 582.42h3.60M116.62 584.40V583.17M114.82 583.17h3.60M118.99 584.15V582.58M117.19 582.58h3.60M121.37 583.90V580.34M119.57 580.34h3.60M123.74 583.65V581.28M121.94 581.28h3.60M126.12 583.40V582.45M124.32 582.45h3.60M128.50 583.15V582.12M126.70 582.12h3.60M133.25 582.64V580.91M131.45 580.91h3.60M135.62 582.38V580.79M133.82 580.79h3.60M140.38 582.14V581.24M138.58 581.24h3.60M142.75 582.07V580.56M140.95 580.56h3.60M145.13 582.00V579.30M143.33 579.30h3.60M147.50 581.93V579.82M145.70 579.82h3.60M152.26 581.79V580.59M150.46 580.59h3.60M154.63 581.72V580.65M152.83 580.65h3.60M159.38 581.57V577.62M157.58 577.62h3.60M161.76 581.47V579.87M159.96 579.87h3.60M166.51 581.18V580.21M164.71 580.21h3.60M168.89 581.04V579.50M167.09 579.50h3.60M171.26 580.90V579.91M169.46 579.91h3.60M176.02 580.62V578.19M174.22 578.19h3.60M178.39 580.48V579.42M176.59 579.42h3.60M190.27 579.23V578.08M188.47 578.08h3.60M195.02 578.38V577.24M193.22 577.24h3.60M197.40 577.96V576.32M195.60 576.32h3.60M199.78 577.49V575.61M197.98 575.61h3.60M202.15 576.99V576.18M200.35 576.18h3.60M204.53 576.48V571.74M202.73 571.74h3.60M206.90 575.97V574.03M205.10 574.03h3.60M209.28 575.46V574.22M207.48 574.22h3.60M211.66 574.95V571.00M209.86 571.00h3.60M214.03 574.48V573.22M212.23 573.22h3.60M216.41 574.01V572.73M214.61 572.73h3.60M218.78 573.55V568.81M216.98 568.81h3.60M223.54 572.61V570.76M221.74 570.76h3.60M225.91 572.19V571.23M224.11 571.23h3.60M228.29 571.83V567.09M226.49 567.09h3.60M230.66 571.47V567.52M228.86 567.52h3.60M233.04 571.10V569.98M231.24 569.98h3.60M235.42 570.74V566.79M233.62 566.79h3.60M237.79 570.18V569.37M235.99 569.37h3.60M240.17 569.42V567.90M238.37 567.90h3.60M242.54 568.66V557.60M240.74 557.60h3.60M244.92 567.90V566.75M243.12 566.75h3.60M252.05 563.25V560.28M250.25 560.28h3.60M254.42 561.89V560.70M252.62 560.70h3.60M256.80 561.62V560.03M255.00 560.03h3.60M259.18 561.34V559.44M257.38 559.44h3.60M261.55 544.65V543.46M259.75 543.46h3.60" fill="none" stroke="#404040" stroke-width="0.65"/>
<rect x="38.50" y="530.90" width="235.30" height="110.60" fill="none" stroke="#6c6c6c" stroke-width="1.1"/>
<text class="tk" style="font-size:5.5px" x="33.30" y="643.40" text-anchor="end">0</text>
<text class="tk" style="font-size:5.5px" x="33.30" y="627.60" text-anchor="end">20</text>
<text class="tk" style="font-size:5.5px" x="33.30" y="611.80" text-anchor="end">40</text>
<text class="tk" style="font-size:5.5px" x="33.30" y="596.00" text-anchor="end">60</text>
<text class="tk" style="font-size:5.5px" x="33.30" y="580.20" text-anchor="end">80</text>
<text class="tk" style="font-size:5.5px" x="33.30" y="564.40" text-anchor="end">100</text>
<text class="tk" style="font-size:5.5px" x="33.30" y="548.60" text-anchor="end">120</text>
<text class="tk" style="font-size:5.5px" x="33.30" y="532.80" text-anchor="end">140</text>
<path d="M38.50 641.50h-2.2M38.50 625.70h-2.2M38.50 609.90h-2.2M38.50 594.10h-2.2M38.50 578.30h-2.2M38.50 562.50h-2.2M38.50 546.70h-2.2M38.50 530.90h-2.2M47.71 641.50v1.9M71.47 641.50v1.9M95.23 641.50v1.9M118.99 641.50v1.9M142.75 641.50v1.9M166.51 641.50v1.9M190.27 641.50v1.9M214.03 641.50v1.9M237.79 641.50v1.9M261.55 641.50v1.9" fill="none" stroke="#6c6c6c" stroke-width="0.8"/>
<text class="lt" x="42.00" y="547.00">i</text>
<text class="yl" transform="translate(17.90 586.00) rotate(-90)" text-anchor="middle">[Fe] µg g<tspan dy="-6.3" dx="0.3" style="font-size:8px;stroke-width:.1px">-1</tspan></text>
</g>
<g>
<path d="M317.50 643.00V605.31h2.38V643.00M319.88 643.00V602.00h2.38V643.00M322.25 643.00V600.10h2.38V643.00M324.63 643.00V599.62h2.38V643.00M327.00 643.00V599.14h2.38V643.00M329.38 643.00V598.66h2.38V643.00M331.76 643.00V598.30h2.38V643.00M334.13 643.00V597.98h2.38V643.00M336.51 643.00V597.66h2.38V643.00M338.88 643.00V597.34h2.38V643.00M341.26 643.00V597.02h2.38V643.00M343.64 643.00V596.70h2.38V643.00M346.01 643.00V596.38h2.38V643.00M348.39 643.00V596.05h2.38V643.00M350.76 643.00V595.73h2.38V643.00M353.14 643.00V595.40h2.38V643.00M355.52 643.00V595.07h2.38V643.00M357.89 643.00V594.74h2.38V643.00M360.27 643.00V594.41h2.38V643.00M362.64 643.00V594.04h2.38V643.00M365.02 643.00V593.29h2.38V643.00M367.40 643.00V592.53h2.38V643.00M369.77 643.00V591.78h2.38V643.00M372.15 643.00V591.02h2.38V643.00M374.52 643.00V590.27h2.38V643.00M376.90 643.00V589.71h2.38V643.00M379.28 643.00V589.21h2.38V643.00M381.65 643.00V588.71h2.38V643.00M384.03 643.00V588.20h2.38V643.00M386.40 643.00V587.70h2.38V643.00M388.78 643.00V587.12h2.38V643.00M391.16 643.00V586.47h2.38V643.00M393.53 643.00V585.82h2.38V643.00M395.91 643.00V585.23h2.38V643.00M398.28 643.00V585.23h2.38V643.00M400.66 643.00V585.23h2.38V643.00M403.04 643.00V585.23h2.38V643.00M405.41 643.00V585.23h2.38V643.00M407.79 643.00V584.92h2.38V643.00M410.16 643.00V584.53h2.38V643.00M412.54 643.00V584.20h2.38V643.00M414.92 643.00V583.92h2.38V643.00M417.29 643.00V583.64h2.38V643.00M419.67 643.00V583.37h2.38V643.00M422.04 643.00V583.05h2.38V643.00M424.42 643.00V582.69h2.38V643.00M426.80 643.00V582.34h2.38V643.00M429.17 643.00V581.98h2.38V643.00M431.55 643.00V581.62h2.38V643.00M433.92 643.00V581.26h2.38V643.00M436.30 643.00V580.86h2.38V643.00M438.68 643.00V580.45h2.38V643.00M441.05 643.00V580.04h2.38V643.00M443.43 643.00V579.62h2.38V643.00M445.80 643.00V579.21h2.38V643.00M448.18 643.00V578.84h2.38V643.00M450.56 643.00V578.50h2.38V643.00M452.93 643.00V578.17h2.38V643.00M455.31 643.00V577.83h2.38V643.00M457.68 643.00V577.50h2.38V643.00M460.06 643.00V577.14h2.38V643.00M462.44 643.00V576.73h2.38V643.00M464.81 643.00V576.31h2.38V643.00M467.19 643.00V575.89h2.38V643.00M469.56 643.00V575.47h2.38V643.00M471.94 643.00V575.05h2.38V643.00M474.32 643.00V574.41h2.38V643.00M476.69 643.00V573.76h2.38V643.00M479.07 643.00V573.10h2.38V643.00M481.44 643.00V572.44h2.38V643.00M483.82 643.00V571.78h2.38V643.00M486.20 643.00V571.14h2.38V643.00M488.57 643.00V570.52h2.38V643.00M490.95 643.00V569.90h2.38V643.00M493.32 643.00V569.27h2.38V643.00M495.70 643.00V568.65h2.38V643.00M498.08 643.00V568.18h2.38V643.00M500.45 643.00V567.87h2.38V643.00M502.83 643.00V567.56h2.38V643.00M505.20 643.00V567.25h2.38V643.00M507.58 643.00V566.94h2.38V643.00M509.96 643.00V566.63h2.38V643.00M512.33 643.00V565.74h2.38V643.00M514.71 643.00V564.70h2.38V643.00M517.08 643.00V563.67h2.38V643.00M519.46 643.00V562.64h2.38V643.00M521.84 643.00V561.12h2.38V643.00M524.21 643.00V559.12h2.38V643.00M526.59 643.00V557.08h2.38V643.00M528.96 643.00V555.01h2.38V643.00" fill="#a3a3a3" stroke="#4e4e4e" stroke-width="0.45"/>
<path d="M318.69 605.31V603.09M316.89 603.09h3.60M321.06 602.00V597.56M319.26 597.56h3.60M323.44 600.10V599.04M321.64 599.04h3.60M325.82 599.62V598.13M324.02 598.13h3.60M328.19 599.14V597.04M326.39 597.04h3.60M330.57 598.66V597.00M328.77 597.00h3.60M335.32 597.98V596.70M333.52 596.70h3.60M337.70 597.66V596.36M335.90 596.36h3.60M340.07 597.34V592.96M338.27 592.96h3.60M342.45 597.02V595.77M340.65 595.77h3.60M344.82 596.70V593.34M343.02 593.34h3.60M347.20 596.38V593.91M345.40 593.91h3.60M349.58 596.05V593.67M347.78 593.67h3.60M351.95 595.73V594.62M350.15 594.62h3.60M354.33 595.40V593.39M352.53 593.39h3.60M356.70 595.07V593.45M354.90 593.45h3.60M359.08 594.74V593.41M357.28 593.41h3.60M361.46 594.41V593.15M359.66 593.15h3.60M363.83 594.04V592.61M362.03 592.61h3.60M366.21 593.29V591.82M364.41 591.82h3.60M368.58 592.53V591.35M366.78 591.35h3.60M370.96 591.78V588.22M369.16 588.22h3.60M373.34 591.02V589.91M371.54 589.91h3.60M375.71 590.27V584.49M373.91 584.49h3.60M378.09 589.71V586.97M376.29 586.97h3.60M380.46 589.21V584.84M378.66 584.84h3.60M382.84 588.71V586.37M381.04 586.37h3.60M385.22 588.20V586.16M383.42 586.16h3.60M387.59 587.70V584.14M385.79 584.14h3.60M389.97 587.12V585.30M388.17 585.30h3.60M392.34 586.47V585.63M390.54 585.63h3.60M394.72 585.82V584.31M392.92 584.31h3.60M397.10 585.23V583.41M395.30 583.41h3.60M399.47 585.23V583.68M397.67 583.68h3.60M401.85 585.23V583.06M400.05 583.06h3.60M404.22 585.23V584.29M402.42 584.29h3.60M406.60 585.23V583.58M404.80 583.58h3.60M413.73 584.20V582.00M411.93 582.00h3.60M416.10 583.92V581.05M414.30 581.05h3.60M418.48 583.64V579.86M416.68 579.86h3.60M420.86 583.37V580.86M419.06 580.86h3.60M423.23 583.05V580.90M421.43 580.90h3.60M425.61 582.69V579.98M423.81 579.98h3.60M427.98 582.34V580.24M426.18 580.24h3.60M430.36 581.98V579.17M428.56 579.17h3.60M432.74 581.62V579.81M430.94 579.81h3.60M435.11 581.26V577.98M433.31 577.98h3.60M437.49 580.86V578.98M435.69 578.98h3.60M439.86 580.45V578.25M438.06 578.25h3.60M442.24 580.04V577.55M440.44 577.55h3.60M444.62 579.62V574.29M442.82 574.29h3.60M446.99 579.21V575.02M445.19 575.02h3.60M449.37 578.84V576.62M447.57 576.62h3.60M451.74 578.50V575.19M449.94 575.19h3.60M454.12 578.17V576.62M452.32 576.62h3.60M456.50 577.83V574.98M454.70 574.98h3.60M458.87 577.50V574.88M457.07 574.88h3.60M461.25 577.14V575.08M459.45 575.08h3.60M463.62 576.73V574.77M461.82 574.77h3.60M466.00 576.31V574.46M464.20 574.46h3.60M468.38 575.89V574.17M466.58 574.17h3.60M470.75 575.47V574.31M468.95 574.31h3.60M473.13 575.05V573.88M471.33 573.88h3.60M477.88 573.76V571.08M476.08 571.08h3.60M480.26 573.10V568.65M478.46 568.65h3.60M482.63 572.44V570.82M480.83 570.82h3.60M485.01 571.78V564.23M483.21 564.23h3.60M487.38 571.14V570.22M485.58 570.22h3.60M492.14 569.90V568.87M490.34 568.87h3.60M494.51 569.27V564.83M492.71 564.83h3.60M496.89 568.65V567.53M495.09 567.53h3.60M499.26 568.18V563.30M497.46 563.30h3.60M504.02 567.56V566.20M502.22 566.20h3.60M506.39 567.25V566.10M504.59 566.10h3.60M508.77 566.94V566.11M506.97 566.11h3.60M511.14 566.63V565.30M509.34 565.30h3.60M513.52 565.74V552.40M511.72 552.40h3.60M515.90 564.70V563.75M514.10 563.75h3.60M518.27 563.67V561.10M516.47 561.10h3.60M520.65 562.64V557.30M518.85 557.30h3.60M525.40 559.12V555.12M523.60 555.12h3.60M527.78 557.08V555.39M525.98 555.39h3.60M530.15 555.01V551.45M528.35 551.45h3.60" fill="none" stroke="#404040" stroke-width="0.65"/>
<rect x="306.50" y="531.90" width="235.80" height="111.10" fill="none" stroke="#6c6c6c" stroke-width="1.1"/>
<text class="tk" x="301.30" y="644.90" text-anchor="end">0</text>
<text class="tk" x="301.30" y="622.68" text-anchor="end">5</text>
<text class="tk" x="301.30" y="600.46" text-anchor="end">10</text>
<text class="tk" x="301.30" y="578.24" text-anchor="end">15</text>
<text class="tk" x="301.30" y="556.02" text-anchor="end">20</text>
<text class="tk" x="301.30" y="533.80" text-anchor="end">25</text>
<path d="M306.50 643.00h-2.2M306.50 620.78h-2.2M306.50 598.56h-2.2M306.50 576.34h-2.2M306.50 554.12h-2.2M306.50 531.90h-2.2M316.31 643.00v1.9M340.07 643.00v1.9M363.83 643.00v1.9M387.59 643.00v1.9M411.35 643.00v1.9M435.11 643.00v1.9M458.87 643.00v1.9M482.63 643.00v1.9M506.39 643.00v1.9M530.15 643.00v1.9" fill="none" stroke="#6c6c6c" stroke-width="0.8"/>
<text class="lt" x="311.60" y="549.10">j</text>
<text class="yl" transform="translate(291.80 586.00) rotate(-90)" text-anchor="middle">[Cu] µg g<tspan dy="-6.3" dx="0.3" style="font-size:8px;stroke-width:.1px">-1</tspan></text>
</g>
<text class="xl" x="54" y="658.8">Faba Bean Genotypes (1 to 90)</text>
<text class="xl" x="323.3" y="660">Faba Bean Genotypes (1 to 90)</text>
</svg></body></html>
